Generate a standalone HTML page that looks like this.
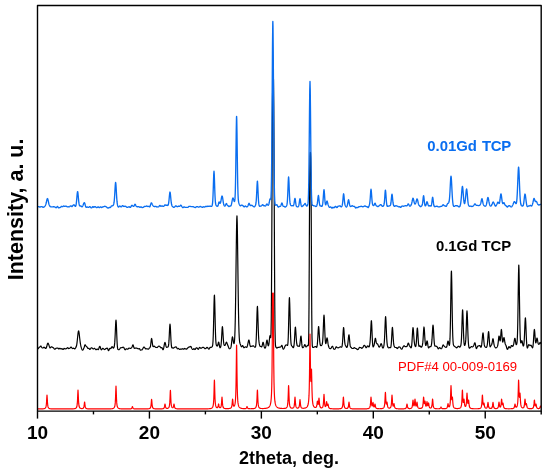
<!DOCTYPE html>
<html><head><meta charset="utf-8"><title>XRD</title>
<style>
html,body{margin:0;padding:0;background:#fff;}
body{width:550px;height:472px;overflow:hidden;}
svg{display:block;}
text{font-family:"Liberation Sans",sans-serif;}
.b{font-weight:bold;}
</style></head><body>
<svg width="550" height="472" viewBox="0 0 550 472">
<rect x="0" y="0" width="550" height="472" fill="#fff"/>
<clipPath id="c"><rect x="37.5" y="5.5" width="503.70000000000005" height="405.6"/></clipPath>
<g clip-path="url(#c)" fill="none" stroke-linejoin="round" stroke-linecap="butt">
<polyline stroke="#000" stroke-width="1.2" points="37.50,348.69 37.75,348.82 38.00,348.79 38.25,348.61 38.50,348.30 38.75,347.90 39.00,347.53 39.25,347.27 39.50,347.12 39.75,347.02 40.00,346.86 40.25,346.58 40.50,346.28 40.75,346.08 41.00,346.15 41.25,346.47 41.50,346.93 41.75,347.36 42.00,347.68 42.25,347.88 42.50,347.99 42.75,348.00 43.00,347.91 43.25,347.75 43.50,347.53 43.75,347.33 44.00,347.22 44.25,347.25 44.50,347.43 44.75,347.71 45.00,348.02 45.25,348.28 45.50,348.43 45.75,348.45 46.00,348.30 46.25,347.94 46.50,347.35 46.75,346.53 47.00,345.54 47.25,344.54 47.50,343.72 47.75,343.24 48.00,343.17 48.25,343.45 48.50,343.97 48.75,344.63 49.00,345.36 49.25,346.14 49.50,346.88 49.75,347.50 50.00,347.84 50.25,347.87 50.50,347.63 50.75,347.30 51.00,347.01 51.25,346.87 51.50,346.86 51.75,346.92 52.00,347.01 52.25,347.12 52.50,347.25 52.75,347.40 53.00,347.55 53.25,347.72 53.50,347.91 53.75,348.17 54.00,348.50 54.25,348.86 54.50,349.14 54.75,349.26 55.00,349.18 55.25,348.96 55.50,348.69 55.75,348.47 56.00,348.31 56.25,348.23 56.50,348.20 56.75,348.22 57.00,348.24 57.25,348.22 57.50,348.15 57.75,348.10 58.00,348.17 58.25,348.41 58.50,348.74 58.75,348.98 59.00,348.99 59.25,348.80 59.50,348.49 59.75,348.28 60.00,348.26 60.25,348.42 60.50,348.66 60.75,348.86 61.00,348.92 61.25,348.86 61.50,348.72 61.75,348.62 62.00,348.65 62.25,348.84 62.50,349.14 62.75,349.39 63.00,349.48 63.25,349.35 63.50,349.02 63.75,348.67 64.00,348.44 64.25,348.42 64.50,348.57 64.75,348.77 65.00,348.88 65.25,348.88 65.50,348.80 65.75,348.73 66.00,348.70 66.25,348.68 66.50,348.58 66.75,348.38 67.00,348.09 67.25,347.81 67.50,347.67 67.75,347.73 68.00,347.96 68.25,348.26 68.50,348.48 68.75,348.57 69.00,348.53 69.25,348.43 69.50,348.29 69.75,348.13 70.00,347.96 70.25,347.74 70.50,347.49 70.75,347.26 71.00,347.13 71.25,347.16 71.50,347.39 71.75,347.75 72.00,348.15 72.25,348.45 72.50,348.58 72.75,348.53 73.00,348.38 73.25,348.22 73.50,348.15 73.75,348.21 74.00,348.39 74.25,348.63 74.50,348.82 74.75,348.88 75.00,348.76 75.25,348.46 75.50,348.05 75.75,347.60 76.00,347.14 76.25,346.59 76.50,345.80 76.75,344.57 77.00,342.86 77.25,340.71 77.50,338.31 77.75,335.87 78.00,333.63 78.25,331.89 78.50,330.98 78.60,330.92 78.75,331.15 79.00,332.35 79.25,334.27 79.50,336.50 79.75,338.74 80.00,340.79 80.25,342.61 80.50,344.14 80.75,345.41 81.00,346.49 81.25,347.42 81.50,348.25 81.75,348.96 82.00,349.53 82.25,349.95 82.50,350.18 82.75,350.17 83.00,349.91 83.25,349.45 83.50,348.89 83.75,348.32 84.00,347.72 84.25,347.00 84.50,346.12 84.75,345.27 85.00,344.76 85.25,344.78 85.50,345.21 85.75,345.74 86.00,346.12 86.25,346.31 86.50,346.42 86.75,346.62 87.00,346.99 87.25,347.48 87.50,347.96 87.75,348.30 88.00,348.43 88.25,348.38 88.50,348.28 88.75,348.26 89.00,348.45 89.25,348.80 89.50,349.19 89.75,349.42 90.00,349.41 90.25,349.16 90.50,348.78 90.75,348.38 91.00,348.06 91.25,347.86 91.50,347.77 91.75,347.81 92.00,347.94 92.25,348.14 92.50,348.38 92.75,348.63 93.00,348.84 93.25,348.96 93.50,348.94 93.75,348.78 94.00,348.56 94.25,348.36 94.50,348.30 94.75,348.40 95.00,348.66 95.25,349.01 95.50,349.34 95.75,349.58 96.00,349.69 96.25,349.68 96.50,349.54 96.75,349.32 97.00,349.10 97.25,349.01 97.50,349.10 97.75,349.34 98.00,349.58 98.25,349.61 98.50,349.32 98.75,348.71 99.00,347.94 99.25,347.16 99.50,346.57 99.75,346.31 100.00,346.46 100.25,347.03 100.50,347.86 100.75,348.72 101.00,349.39 101.25,349.75 101.50,349.78 101.75,349.55 102.00,349.18 102.25,348.77 102.50,348.45 102.75,348.31 103.00,348.38 103.25,348.56 103.50,348.78 103.75,348.98 104.00,349.16 104.25,349.34 104.50,349.50 104.75,349.54 105.00,349.40 105.25,349.11 105.50,348.81 105.75,348.61 106.00,348.56 106.25,348.54 106.50,348.44 106.75,348.24 107.00,348.04 107.25,348.03 107.50,348.32 107.75,348.93 108.00,349.69 108.25,350.36 108.50,350.67 108.75,350.54 109.00,350.04 109.25,349.40 109.50,348.82 109.75,348.48 110.00,348.38 110.25,348.45 110.50,348.57 110.75,348.57 111.00,348.35 111.25,347.92 111.50,347.38 111.75,346.92 112.00,346.70 112.25,346.75 112.50,347.04 112.75,347.44 113.00,347.81 113.25,348.03 113.50,348.03 113.75,347.82 114.00,347.35 114.25,346.48 114.50,344.96 114.75,342.39 115.00,338.41 115.25,333.04 115.50,327.01 115.75,321.95 116.00,320.00 116.25,322.32 116.50,327.90 116.75,334.59 117.00,340.60 117.25,344.97 117.50,347.60 117.75,348.90 118.00,349.44 118.25,349.64 118.50,349.71 118.75,349.72 119.00,349.65 119.25,349.48 119.50,349.21 119.75,348.87 120.00,348.49 120.25,348.14 120.50,347.88 120.75,347.75 121.00,347.70 121.25,347.71 121.50,347.74 121.75,347.74 122.00,347.69 122.25,347.57 122.50,347.39 122.75,347.22 123.00,347.14 123.25,347.18 123.50,347.32 123.75,347.55 124.00,347.89 124.25,348.36 124.50,348.92 124.75,349.43 125.00,349.76 125.25,349.80 125.50,349.60 125.75,349.26 126.00,348.95 126.25,348.77 126.50,348.77 126.75,348.88 127.00,349.02 127.25,349.12 127.50,349.17 127.75,349.15 128.00,349.01 128.25,348.75 128.50,348.46 128.75,348.23 129.00,348.14 129.25,348.16 129.50,348.21 129.75,348.25 130.00,348.28 130.25,348.32 130.50,348.35 130.75,348.31 131.00,348.20 131.25,348.04 131.50,347.83 131.75,347.52 132.00,347.04 132.25,346.35 132.50,345.59 132.75,345.01 133.00,344.90 133.25,345.38 133.50,346.24 133.75,347.15 134.00,347.86 134.25,348.25 134.50,348.35 134.75,348.26 135.00,348.11 135.25,348.02 135.50,348.01 135.75,348.04 136.00,348.08 136.25,348.10 136.50,348.11 136.75,348.16 137.00,348.24 137.25,348.35 137.50,348.48 137.75,348.62 138.00,348.74 138.25,348.82 138.50,348.80 138.75,348.70 139.00,348.57 139.25,348.52 139.50,348.68 139.75,349.07 140.00,349.58 140.25,349.98 140.50,350.15 140.75,350.09 141.00,349.95 141.25,349.89 141.50,349.93 141.75,349.97 142.00,349.87 142.25,349.60 142.50,349.20 142.75,348.75 143.00,348.30 143.25,347.85 143.50,347.45 143.75,347.17 144.00,347.07 144.25,347.17 144.50,347.41 144.75,347.74 145.00,348.11 145.25,348.50 145.50,348.81 145.75,348.98 146.00,348.96 146.25,348.84 146.50,348.73 146.75,348.71 147.00,348.77 147.25,348.86 147.50,348.95 147.75,349.06 148.00,349.17 148.25,349.23 148.50,349.16 148.75,348.90 149.00,348.53 149.25,348.17 149.50,347.90 149.75,347.72 150.00,347.51 150.25,347.04 150.50,346.03 150.75,344.34 151.00,342.14 151.25,339.97 151.50,338.63 151.60,338.48 151.75,338.75 152.00,340.21 152.25,342.28 152.50,344.25 152.75,345.68 153.00,346.44 153.25,346.63 153.50,346.48 153.75,346.24 154.00,346.11 154.25,346.15 154.50,346.33 154.75,346.56 155.00,346.80 155.25,347.00 155.50,347.19 155.75,347.33 156.00,347.43 156.25,347.47 156.50,347.48 156.75,347.51 157.00,347.54 157.25,347.51 157.50,347.33 157.75,347.00 158.00,346.63 158.25,346.36 158.50,346.23 158.75,346.22 159.00,346.22 159.25,346.22 159.50,346.27 159.75,346.42 160.00,346.70 160.25,347.05 160.50,347.42 160.75,347.72 161.00,347.85 161.25,347.80 161.50,347.66 161.75,347.57 162.00,347.73 162.25,348.20 162.50,348.86 162.75,349.46 163.00,349.72 163.25,349.50 163.50,348.77 163.75,347.64 164.00,346.27 164.25,344.83 164.50,343.54 164.75,342.64 165.00,342.40 165.25,342.92 165.50,343.98 165.75,345.18 166.00,346.21 166.25,346.92 166.50,347.27 166.75,347.36 167.00,347.29 167.25,347.17 167.50,347.07 167.75,347.00 168.00,346.86 168.25,346.48 168.50,345.55 168.75,343.64 169.00,340.41 169.25,335.83 169.50,330.58 169.75,326.08 170.00,324.18 170.25,325.87 170.50,330.31 170.75,335.74 171.00,340.67 171.25,344.31 171.50,346.50 171.75,347.51 172.00,347.78 172.25,347.76 172.50,347.76 172.75,347.89 173.00,348.08 173.25,348.18 173.50,348.12 173.75,347.92 174.00,347.69 174.25,347.50 174.50,347.37 174.75,347.28 175.00,347.20 175.25,347.09 175.50,346.98 175.75,346.89 176.00,346.88 176.25,347.02 176.50,347.33 176.75,347.79 177.00,348.29 177.25,348.67 177.50,348.81 177.75,348.73 178.00,348.56 178.25,348.45 178.50,348.50 178.75,348.68 179.00,348.94 179.25,349.18 179.50,349.37 179.75,349.42 180.00,349.33 180.25,349.14 180.50,349.00 180.75,348.99 181.00,349.10 181.25,349.21 181.50,349.23 181.75,349.13 182.00,348.97 182.25,348.81 182.50,348.72 182.75,348.73 183.00,348.85 183.25,349.05 183.50,349.22 183.75,349.21 184.00,349.02 184.25,348.74 184.50,348.52 184.75,348.45 185.00,348.53 185.25,348.67 185.50,348.83 185.75,348.98 186.00,349.11 186.25,349.18 186.50,349.16 186.75,349.03 187.00,348.80 187.25,348.51 187.50,348.20 187.75,347.94 188.00,347.73 188.25,347.54 188.50,347.35 188.75,347.14 189.00,346.96 189.25,346.86 189.50,346.83 189.75,346.85 190.00,346.80 190.25,346.65 190.50,346.47 190.75,346.42 191.00,346.64 191.25,347.12 191.50,347.71 191.75,348.27 192.00,348.73 192.25,349.09 192.50,349.35 192.75,349.47 193.00,349.42 193.25,349.21 193.50,348.94 193.75,348.72 194.00,348.67 194.25,348.82 194.50,349.12 194.75,349.44 195.00,349.59 195.25,349.44 195.50,349.02 195.75,348.50 196.00,348.08 196.25,347.85 196.50,347.79 196.75,347.85 197.00,348.00 197.25,348.23 197.50,348.54 197.75,348.89 198.00,349.19 198.25,349.31 198.50,349.15 198.75,348.75 199.00,348.22 199.25,347.77 199.50,347.49 199.75,347.43 200.00,347.56 200.25,347.81 200.50,348.07 200.75,348.26 201.00,348.31 201.25,348.24 201.50,348.09 201.75,347.91 202.00,347.73 202.25,347.56 202.50,347.45 202.75,347.39 203.00,347.39 203.25,347.39 203.50,347.40 203.75,347.47 204.00,347.67 204.25,348.00 204.50,348.35 204.75,348.62 205.00,348.74 205.25,348.72 205.50,348.61 205.75,348.46 206.00,348.25 206.25,347.98 206.50,347.71 206.75,347.49 207.00,347.39 207.25,347.40 207.50,347.55 207.75,347.83 208.00,348.19 208.25,348.59 208.50,348.93 208.75,349.12 209.00,349.07 209.25,348.79 209.50,348.36 209.75,347.88 210.00,347.50 210.25,347.31 210.50,347.28 210.75,347.35 211.00,347.39 211.25,347.35 211.50,347.20 211.75,347.02 212.00,346.82 212.25,346.56 212.50,345.98 212.75,344.55 213.00,341.47 213.25,335.81 213.50,327.09 213.75,315.91 214.00,304.48 214.25,296.51 214.40,295.00 214.50,295.64 214.75,302.33 215.00,313.30 215.25,324.65 215.50,333.80 215.75,339.88 216.00,343.26 216.25,344.84 216.50,345.50 216.75,345.79 217.00,345.98 217.25,346.06 217.50,345.88 217.75,345.27 218.00,344.25 218.25,343.07 218.50,342.23 218.60,342.11 218.75,342.22 219.00,343.14 219.25,344.57 219.50,346.03 219.75,347.10 220.00,347.66 220.25,347.73 220.50,347.42 220.75,346.70 221.00,345.35 221.25,343.02 221.50,339.49 221.75,334.99 222.00,330.41 222.25,327.23 222.40,326.64 222.50,326.87 222.75,329.46 223.00,333.64 223.25,337.89 223.50,341.22 223.75,343.38 224.00,344.60 224.25,345.22 224.50,345.48 224.75,345.51 225.00,345.36 225.25,345.00 225.50,344.42 225.75,343.66 226.00,342.87 226.25,342.29 226.40,342.13 226.50,342.20 226.75,342.58 227.00,343.19 227.25,343.87 227.50,344.52 227.75,345.16 228.00,345.79 228.25,346.42 228.50,347.07 228.75,347.73 229.00,348.29 229.25,348.66 229.50,348.78 229.75,348.69 230.00,348.52 230.25,348.34 230.50,348.12 230.75,347.70 231.00,346.88 231.25,345.52 231.50,343.60 231.75,341.31 232.00,339.04 232.25,337.39 232.40,336.94 232.50,336.91 232.75,337.66 233.00,339.14 233.25,340.81 233.50,342.25 233.75,343.25 234.00,343.58 234.25,342.97 234.50,340.98 234.75,337.07 235.00,330.56 235.25,320.77 235.50,307.21 235.75,289.99 236.00,270.09 236.25,249.54 236.50,231.39 236.75,219.22 236.95,215.95 237.00,216.14 237.25,223.05 237.50,238.01 237.75,257.48 238.00,277.91 238.25,296.60 238.50,312.05 238.75,323.80 239.00,332.08 239.25,337.49 239.50,340.72 239.75,342.48 240.00,343.42 240.25,344.05 240.50,344.66 240.75,345.33 241.00,346.00 241.25,346.52 241.50,346.78 241.75,346.74 242.00,346.44 242.25,346.02 242.50,345.70 242.75,345.68 243.00,346.00 243.25,346.58 243.50,347.19 243.75,347.61 244.00,347.74 244.25,347.63 244.50,347.41 244.75,347.21 245.00,347.07 245.25,346.98 245.50,346.91 245.75,346.88 246.00,346.94 246.25,347.10 246.50,347.28 246.75,347.30 247.00,347.02 247.25,346.39 247.50,345.50 247.75,344.41 248.00,343.21 248.25,341.93 248.50,340.78 248.75,340.07 249.00,340.16 249.25,341.15 249.50,342.65 249.75,344.15 250.00,345.33 250.25,346.09 250.50,346.49 250.75,346.60 251.00,346.54 251.25,346.39 251.50,346.27 251.75,346.21 252.00,346.22 252.25,346.21 252.50,346.13 252.75,345.97 253.00,345.80 253.25,345.74 253.50,345.85 253.75,346.09 254.00,346.41 254.25,346.70 254.50,346.95 254.75,347.15 255.00,347.28 255.25,347.24 255.50,346.80 255.75,345.57 256.00,343.01 256.25,338.44 256.50,331.52 256.75,322.70 257.00,313.75 257.25,307.58 257.40,306.46 257.50,306.95 257.75,312.05 258.00,320.28 258.25,328.58 258.50,335.09 258.75,339.39 259.00,342.00 259.25,343.67 259.50,344.85 259.75,345.70 260.00,346.18 260.25,346.35 260.50,346.36 260.75,346.39 261.00,346.54 261.25,346.77 261.50,346.92 261.75,346.80 262.00,346.29 262.25,345.34 262.50,344.12 262.75,342.97 263.00,342.31 263.25,342.46 263.50,343.31 263.75,344.54 264.00,345.82 264.25,346.90 264.50,347.65 264.75,348.06 265.00,348.19 265.25,348.04 265.50,347.58 265.75,346.73 266.00,345.41 266.25,343.71 266.50,341.90 266.75,340.49 267.00,340.03 267.25,340.77 267.50,342.31 267.75,343.96 268.00,345.21 268.25,345.79 268.50,345.66 268.75,344.83 269.00,343.33 269.25,341.19 269.50,338.74 269.75,336.61 270.00,335.58 270.25,335.98 270.50,337.20 270.75,337.49 271.00,333.49 271.25,319.92 271.50,291.32 271.75,246.39 272.00,191.39 272.25,138.40 272.50,98.78 272.75,77.34 273.00,71.04 273.10,70.87 273.25,71.65 273.50,80.78 273.75,106.31 274.00,149.85 274.25,204.97 274.50,259.59 274.75,302.37 275.00,328.69 275.25,341.21 275.50,345.69 275.75,346.91 276.00,347.28 276.25,347.55 276.50,347.85 276.75,348.04 277.00,348.06 277.25,347.91 277.50,347.67 277.75,347.46 278.00,347.36 278.25,347.35 278.50,347.39 278.75,347.41 279.00,347.39 279.25,347.30 279.50,347.18 279.75,347.09 280.00,347.04 280.25,347.03 280.50,347.00 280.75,346.86 281.00,346.56 281.25,346.12 281.50,345.65 281.75,345.34 282.00,345.48 282.25,346.18 282.50,347.22 282.75,348.22 283.00,348.91 283.25,349.19 283.50,349.14 283.75,348.90 284.00,348.52 284.25,348.03 284.50,347.44 284.75,346.81 285.00,346.23 285.25,345.73 285.50,345.35 285.75,345.09 286.00,344.96 286.25,344.93 286.50,344.97 286.75,345.03 287.00,345.16 287.25,345.35 287.50,345.43 287.75,344.77 288.00,342.45 288.25,337.41 288.50,329.14 288.75,318.31 289.00,307.17 289.25,299.29 289.40,297.70 289.50,298.16 289.75,304.16 290.00,314.30 290.25,324.92 290.50,333.65 290.75,339.62 291.00,343.10 291.25,344.84 291.50,345.60 291.75,345.91 292.00,346.12 292.25,346.41 292.50,346.78 292.75,347.19 293.00,347.52 293.25,347.66 293.50,347.49 293.75,346.84 294.00,345.45 294.25,343.03 294.50,339.42 294.75,334.94 295.00,330.50 295.25,327.55 295.40,327.08 295.50,327.37 295.75,329.99 296.00,334.09 296.25,338.21 296.50,341.49 296.75,343.70 297.00,345.01 297.25,345.69 297.50,345.99 297.75,346.09 298.00,346.09 298.25,346.07 298.50,346.10 298.75,346.20 299.00,346.33 299.25,346.33 299.50,345.99 299.75,345.05 300.00,343.37 300.25,341.01 300.50,338.46 300.75,336.52 301.00,336.12 301.25,337.65 301.50,340.44 301.75,343.38 302.00,345.68 302.25,347.04 302.50,347.63 302.75,347.74 303.00,347.65 303.25,347.44 303.50,347.18 303.75,346.79 304.00,346.27 304.25,345.63 304.50,345.01 304.75,344.60 305.00,344.65 305.25,345.19 305.50,345.96 305.75,346.61 306.00,346.95 306.25,346.94 306.50,346.70 306.75,346.36 307.00,346.00 307.25,345.69 307.50,345.51 307.75,345.46 308.00,345.57 308.25,345.63 308.50,344.00 308.75,334.51 309.00,307.28 309.25,260.84 309.50,210.12 309.75,173.44 310.00,156.46 310.25,152.58 310.35,152.47 310.50,152.73 310.75,158.32 311.00,178.85 311.25,219.17 311.50,270.63 311.75,314.06 312.00,337.49 312.25,345.22 312.50,346.91 312.75,347.33 313.00,347.48 313.25,347.48 313.50,347.38 313.75,347.25 314.00,347.13 314.25,347.00 314.50,346.90 314.75,346.80 315.00,346.70 315.25,346.60 315.50,346.53 315.75,346.58 316.00,346.80 316.25,347.13 316.50,347.38 316.75,347.27 317.00,346.53 317.25,344.92 317.50,342.25 317.75,338.49 318.00,333.98 318.25,329.63 318.50,326.88 318.60,326.52 318.75,326.96 319.00,329.75 319.25,333.92 319.50,338.06 319.75,341.35 320.00,343.55 320.25,344.83 320.50,345.45 320.75,345.67 321.00,345.68 321.25,345.58 321.50,345.41 321.75,345.15 322.00,344.74 322.25,344.03 322.50,342.71 322.75,340.24 323.00,336.07 323.25,330.15 323.50,323.29 323.75,317.43 324.00,314.99 324.25,317.22 324.50,322.94 324.75,329.77 325.00,335.84 325.25,340.22 325.50,342.73 325.75,343.64 326.00,343.28 326.25,342.02 326.50,340.28 326.75,338.65 327.00,337.83 327.25,338.25 327.50,339.67 327.75,341.54 328.00,343.38 328.25,344.91 328.50,346.05 328.75,346.85 329.00,347.44 329.25,347.88 329.50,348.21 329.75,348.45 330.00,348.59 330.25,348.65 330.50,348.61 330.75,348.47 331.00,348.21 331.25,347.85 331.50,347.43 331.75,346.99 332.00,346.58 332.25,346.29 332.50,346.25 332.75,346.53 333.00,347.12 333.25,347.88 333.50,348.58 333.75,349.05 334.00,349.26 334.25,349.28 334.50,349.26 334.75,349.21 335.00,349.07 335.25,348.74 335.50,348.17 335.75,347.53 336.00,347.01 336.25,346.78 336.50,346.87 336.75,347.14 337.00,347.42 337.25,347.62 337.50,347.72 337.75,347.77 338.00,347.79 338.25,347.80 338.50,347.76 338.75,347.65 339.00,347.50 339.25,347.35 339.50,347.19 339.75,347.06 340.00,346.92 340.25,346.80 340.50,346.75 340.75,346.81 341.00,346.96 341.25,347.12 341.50,347.19 341.75,347.02 342.00,346.41 342.25,345.05 342.50,342.63 342.75,339.05 343.00,334.65 343.25,330.40 343.50,327.81 343.60,327.55 343.75,328.13 344.00,331.16 344.25,335.44 344.50,339.45 344.75,342.37 345.00,344.08 345.25,344.96 345.50,345.48 345.75,345.92 346.00,346.38 346.25,346.84 346.50,347.23 346.75,347.44 347.00,347.33 347.25,346.82 347.50,345.82 347.75,344.29 348.00,342.22 348.25,339.71 348.50,337.14 348.75,335.23 349.00,334.80 349.25,336.20 349.50,338.87 349.75,341.82 350.00,344.30 350.25,345.95 350.50,346.79 350.75,347.12 351.00,347.25 351.25,347.46 351.50,347.78 351.75,348.13 352.00,348.38 352.25,348.49 352.50,348.51 352.75,348.50 353.00,348.50 353.25,348.45 353.50,348.29 353.75,348.04 354.00,347.80 354.25,347.67 354.50,347.71 354.75,347.88 355.00,348.10 355.25,348.28 355.50,348.39 355.75,348.46 356.00,348.53 356.25,348.64 356.50,348.80 356.75,349.00 357.00,349.22 357.25,349.41 357.50,349.53 357.75,349.56 358.00,349.48 358.25,349.28 358.50,348.94 358.75,348.50 359.00,348.02 359.25,347.65 359.50,347.47 359.75,347.45 360.00,347.50 360.25,347.50 360.50,347.48 360.75,347.51 361.00,347.70 361.25,348.00 361.50,348.26 361.75,348.34 362.00,348.21 362.25,347.97 362.50,347.74 362.75,347.53 363.00,347.27 363.25,346.86 363.50,346.34 363.75,345.82 364.00,345.46 364.25,345.33 364.50,345.39 364.75,345.58 365.00,345.86 365.25,346.26 365.50,346.76 365.75,347.27 366.00,347.65 366.25,347.76 366.50,347.58 366.75,347.17 367.00,346.70 367.25,346.29 367.50,346.03 367.75,345.94 368.00,346.02 368.25,346.25 368.50,346.58 368.75,346.88 369.00,346.94 369.25,346.57 369.50,345.71 369.75,344.38 370.00,342.47 370.25,339.69 370.50,335.63 370.75,330.39 371.00,324.92 371.25,321.19 371.40,320.70 371.50,321.19 371.75,325.22 372.00,331.50 372.25,337.80 372.50,342.62 372.75,345.49 373.00,346.71 373.25,346.90 373.50,346.58 373.75,346.03 374.00,345.29 374.25,344.28 374.50,342.89 374.75,341.20 375.00,339.53 375.25,338.44 375.40,338.28 375.50,338.44 375.75,339.51 376.00,341.05 376.25,342.41 376.50,343.28 376.75,343.64 377.00,343.71 377.25,343.75 377.50,343.94 377.75,344.32 378.00,344.86 378.25,345.47 378.50,346.09 378.75,346.64 379.00,347.01 379.25,347.13 379.50,347.00 379.75,346.68 380.00,346.22 380.25,345.61 380.50,344.87 380.75,344.13 381.00,343.66 381.25,343.68 381.50,344.17 381.75,344.95 382.00,345.85 382.25,346.73 382.50,347.44 382.75,347.90 383.00,348.02 383.25,347.81 383.50,347.29 383.75,346.43 384.00,345.03 384.25,342.70 384.50,339.00 384.75,333.68 385.00,327.20 385.25,320.93 385.50,317.08 385.60,316.68 385.75,317.49 386.00,321.88 386.25,328.19 386.50,334.32 386.75,339.14 387.00,342.45 387.25,344.58 387.50,345.96 387.75,346.85 388.00,347.38 388.25,347.66 388.50,347.79 388.75,347.82 389.00,347.78 389.25,347.66 389.50,347.53 389.75,347.46 390.00,347.52 390.25,347.66 390.50,347.70 390.75,347.36 391.00,346.26 391.25,344.04 391.50,340.52 391.75,335.96 392.00,331.31 392.25,328.05 392.40,327.40 392.50,327.64 392.75,330.22 393.00,334.44 393.25,338.73 393.50,342.13 393.75,344.35 394.00,345.62 394.25,346.34 394.50,346.79 394.75,347.13 395.00,347.36 395.25,347.48 395.50,347.51 395.75,347.50 396.00,347.50 396.25,347.57 396.50,347.75 396.75,348.03 397.00,348.33 397.25,348.54 397.50,348.52 397.75,348.25 398.00,347.82 398.25,347.41 398.50,347.11 398.75,346.99 399.00,346.97 399.25,346.97 399.50,347.00 399.75,347.09 400.00,347.26 400.25,347.54 400.50,347.86 400.75,348.23 401.00,348.60 401.25,348.94 401.50,349.15 401.75,349.17 402.00,348.97 402.25,348.57 402.50,348.06 402.75,347.53 403.00,347.01 403.25,346.57 403.50,346.20 403.75,345.94 404.00,345.81 404.25,345.83 404.50,346.00 404.75,346.25 405.00,346.47 405.25,346.62 405.50,346.67 405.75,346.67 406.00,346.65 406.25,346.63 406.50,346.59 406.75,346.51 407.00,346.31 407.25,345.92 407.50,345.23 407.75,344.32 408.00,343.48 408.25,343.05 408.50,343.18 408.75,343.75 409.00,344.51 409.25,345.26 409.50,345.83 409.75,346.23 410.00,346.56 410.25,346.90 410.50,347.29 410.75,347.67 411.00,347.88 411.25,347.66 411.50,346.73 411.75,344.80 412.00,341.70 412.25,337.58 412.50,333.05 412.75,329.27 413.00,327.59 413.25,328.70 413.50,331.80 413.75,335.55 414.00,338.96 414.25,341.62 414.50,343.54 414.75,344.87 415.00,345.77 415.25,346.34 415.50,346.60 415.75,346.42 416.00,345.48 416.25,343.35 416.50,339.87 416.75,335.44 417.00,331.11 417.25,328.38 417.40,328.12 417.50,328.53 417.75,331.51 418.00,335.93 418.25,340.27 418.50,343.57 418.75,345.52 419.00,346.33 419.25,346.41 419.50,346.18 419.75,345.95 420.00,345.90 420.25,346.08 420.50,346.43 420.75,346.82 421.00,347.14 421.25,347.26 421.50,347.17 421.75,346.86 422.00,346.36 422.25,345.66 422.50,344.61 422.75,342.90 423.00,340.19 423.25,336.43 423.50,332.11 423.75,328.45 424.00,326.98 424.25,328.48 424.50,332.13 424.75,336.44 425.00,340.23 425.25,343.00 425.50,344.71 425.75,345.47 426.00,345.39 426.25,344.57 426.50,343.20 426.75,341.74 427.00,340.89 427.25,341.14 427.50,342.41 427.75,344.19 428.00,345.92 428.25,347.21 428.50,347.86 428.75,347.93 429.00,347.66 429.25,347.26 429.50,346.91 429.75,346.70 430.00,346.65 430.25,346.71 430.50,346.77 430.75,346.68 431.00,346.32 431.25,345.57 431.50,344.32 431.75,342.36 432.00,339.42 432.25,335.43 432.50,330.87 432.75,326.89 433.00,325.08 433.25,326.37 433.50,330.09 433.75,334.77 434.00,339.16 434.25,342.51 434.50,344.64 434.75,345.73 435.00,346.13 435.25,346.18 435.50,346.11 435.75,346.06 436.00,346.10 436.25,346.22 436.50,346.40 436.75,346.59 437.00,346.78 437.25,347.05 437.50,347.44 437.75,347.95 438.00,348.46 438.25,348.78 438.50,348.77 438.75,348.48 439.00,348.07 439.25,347.75 439.50,347.64 439.75,347.71 440.00,347.89 440.25,348.06 440.50,348.25 440.75,348.46 441.00,348.65 441.25,348.76 441.50,348.67 441.75,348.33 442.00,347.79 442.25,347.09 442.50,346.33 442.75,345.61 443.00,345.11 443.25,344.97 443.50,345.16 443.75,345.53 444.00,345.93 444.25,346.24 444.50,346.47 444.75,346.67 445.00,346.87 445.25,347.06 445.50,347.21 445.75,347.29 446.00,347.33 446.25,347.31 446.50,347.13 446.75,346.64 447.00,345.72 447.25,344.39 447.50,342.88 447.75,341.62 448.00,341.06 448.25,341.43 448.50,342.49 448.75,343.77 449.00,344.83 449.25,345.34 449.50,344.94 449.75,343.05 450.00,338.65 450.25,330.54 450.50,317.95 450.75,301.69 451.00,284.98 451.25,273.27 451.40,270.99 451.50,271.88 451.75,281.43 452.00,297.17 452.25,313.46 452.50,326.69 452.75,335.70 453.00,341.01 453.25,343.80 453.50,345.13 453.75,345.70 454.00,345.94 454.25,346.10 454.50,346.27 454.75,346.47 455.00,346.65 455.25,346.81 455.50,346.96 455.75,347.16 456.00,347.41 456.25,347.68 456.50,347.85 456.75,347.86 457.00,347.68 457.25,347.39 457.50,347.09 457.75,346.80 458.00,346.54 458.25,346.33 458.50,346.22 458.75,346.26 459.00,346.45 459.25,346.73 459.50,346.97 459.75,347.08 460.00,347.00 460.25,346.74 460.50,346.28 460.75,345.59 461.00,344.36 461.25,342.04 461.50,337.90 461.75,331.49 462.00,323.35 462.25,315.35 462.50,310.37 462.60,309.87 462.75,310.84 463.00,316.47 463.25,324.60 463.50,332.52 463.75,338.62 464.00,342.50 464.25,344.52 464.50,345.29 464.75,345.32 465.00,344.91 465.25,344.12 465.50,342.66 465.75,339.89 466.00,335.15 466.25,328.31 466.50,320.38 466.75,313.64 467.00,310.93 467.25,313.69 467.50,320.44 467.75,328.42 468.00,335.49 468.25,340.75 468.50,344.22 468.75,346.37 469.00,347.57 469.25,348.13 469.50,348.21 469.75,348.03 470.00,347.76 470.25,347.53 470.50,347.31 470.75,347.08 471.00,346.84 471.25,346.65 471.50,346.59 471.75,346.67 472.00,346.83 472.25,346.95 472.50,346.97 472.75,346.84 473.00,346.61 473.25,346.31 473.50,345.94 473.75,345.43 474.00,344.77 474.25,343.98 474.50,343.22 474.75,342.75 475.00,342.84 475.25,343.63 475.50,344.95 475.75,346.43 476.00,347.69 476.25,348.42 476.50,348.57 476.75,348.21 477.00,347.60 477.25,346.98 477.50,346.48 477.75,346.15 478.00,345.98 478.25,345.93 478.50,345.94 478.75,345.97 479.00,345.92 479.25,345.77 479.50,345.59 479.75,345.50 480.00,345.66 480.25,346.07 480.50,346.63 480.75,347.10 481.00,347.22 481.25,346.82 481.50,345.82 481.75,344.17 482.00,341.93 482.25,339.20 482.50,336.32 482.75,333.92 483.00,332.94 483.25,333.93 483.50,336.49 483.75,339.64 484.00,342.54 484.25,344.64 484.50,345.86 484.75,346.44 485.00,346.72 485.25,346.94 485.50,347.17 485.75,347.39 486.00,347.51 486.25,347.48 486.50,347.29 486.75,346.89 487.00,346.21 487.25,345.00 487.50,343.02 487.75,340.16 488.00,336.71 488.25,333.50 488.50,331.71 488.60,331.64 488.75,332.34 489.00,335.17 489.25,338.99 489.50,342.57 489.75,345.15 490.00,346.50 490.25,346.83 490.50,346.53 490.75,346.00 491.00,345.52 491.25,345.21 491.50,344.94 491.75,344.45 492.00,343.53 492.25,342.12 492.50,340.47 492.75,339.13 493.00,338.70 493.25,339.45 493.50,341.02 493.75,342.78 494.00,344.30 494.25,345.44 494.50,346.22 494.75,346.76 495.00,347.14 495.25,347.46 495.50,347.72 495.75,347.87 496.00,347.89 496.25,347.79 496.50,347.59 496.75,347.35 497.00,347.08 497.25,346.72 497.50,346.18 497.75,345.30 498.00,343.87 498.25,341.82 498.50,339.37 498.75,337.14 499.00,335.99 499.25,336.40 499.50,337.99 499.75,339.82 500.00,340.97 500.25,340.76 500.50,338.93 500.75,335.80 501.00,332.32 501.25,329.88 501.40,329.48 501.50,329.76 501.75,332.05 502.00,335.57 502.25,338.94 502.50,341.21 502.75,342.08 503.00,341.71 503.25,340.51 503.50,339.04 503.75,337.88 504.00,337.58 504.25,338.38 504.50,339.91 504.75,341.60 505.00,343.01 505.25,343.97 505.50,344.53 505.75,344.95 506.00,345.47 506.25,346.24 506.50,347.19 506.75,348.12 507.00,348.85 507.25,349.27 507.50,349.35 507.75,349.12 508.00,348.63 508.25,347.98 508.50,347.33 508.75,346.83 509.00,346.63 509.25,346.74 509.50,347.12 509.75,347.60 510.00,347.95 510.25,348.00 510.50,347.67 510.75,347.05 511.00,346.33 511.25,345.77 511.50,345.52 511.75,345.60 512.00,345.89 512.25,346.20 512.50,346.37 512.75,346.35 513.00,346.08 513.25,345.56 513.50,344.75 513.75,343.67 514.00,342.34 514.25,340.86 514.50,339.43 514.75,338.44 515.00,338.38 515.25,339.49 515.50,341.28 515.75,343.04 516.00,344.21 516.25,344.65 516.50,344.50 516.75,343.90 517.00,342.59 517.25,339.74 517.50,333.92 517.75,323.68 518.00,308.62 518.25,290.56 518.50,274.06 518.75,265.44 518.80,265.13 519.00,269.01 519.25,282.78 519.50,300.65 519.75,317.19 520.00,329.54 520.25,337.24 520.50,341.25 520.75,342.85 521.00,342.99 521.25,342.33 521.50,341.40 521.75,340.72 522.00,340.74 522.25,341.63 522.50,343.02 522.75,344.41 523.00,345.45 523.25,345.99 523.50,345.97 523.75,345.19 524.00,343.35 524.25,340.03 524.50,335.04 524.75,328.80 525.00,322.60 525.25,318.48 525.40,317.88 525.50,318.36 525.75,322.37 526.00,328.70 526.25,335.25 526.50,340.69 526.75,344.53 527.00,346.86 527.25,347.93 527.50,348.05 527.75,347.50 528.00,346.61 528.25,345.69 528.50,345.00 528.75,344.66 529.00,344.65 529.25,344.87 529.50,345.19 529.75,345.48 530.00,345.61 530.25,345.55 530.50,345.37 530.75,345.22 531.00,345.25 531.25,345.50 531.50,345.93 531.75,346.46 532.00,347.04 532.25,347.55 532.50,347.79 532.75,347.44 533.00,346.17 533.25,343.80 533.50,340.38 533.75,336.32 534.00,332.41 534.25,329.85 534.40,329.46 534.50,329.74 534.75,332.14 535.00,335.82 535.25,339.38 535.50,341.86 535.75,342.92 536.00,342.69 536.25,341.56 536.50,340.00 536.75,338.61 537.00,338.02 537.25,338.54 537.50,339.89 537.75,341.50 538.00,342.86 538.25,343.75 538.50,344.19 538.75,344.31 539.00,344.22 539.25,343.96 539.50,343.54 539.75,343.04 540.00,342.59 540.25,342.41 540.50,342.67 540.75,343.35 541.00,344.17"/>
<polyline stroke="#0a6ef0" stroke-width="1.35" points="37.50,206.51 37.75,206.53 38.00,206.56 38.25,206.60 38.50,206.65 38.75,206.73 39.00,206.84 39.25,206.93 39.50,206.99 39.75,207.02 40.00,207.03 40.25,207.01 40.50,206.95 40.75,206.85 41.00,206.72 41.25,206.61 41.50,206.55 41.75,206.56 42.00,206.64 42.25,206.78 42.50,206.97 42.75,207.15 43.00,207.27 43.25,207.30 43.50,207.23 43.75,207.10 44.00,206.97 44.25,206.84 44.50,206.66 44.75,206.39 45.00,206.02 45.25,205.58 45.50,205.08 45.75,204.49 46.00,203.73 46.25,202.78 46.50,201.65 46.75,200.48 47.00,199.43 47.25,198.74 47.40,198.55 47.50,198.57 47.75,198.97 48.00,199.83 48.25,200.95 48.50,202.15 48.75,203.27 49.00,204.22 49.25,204.96 49.50,205.53 49.75,205.98 50.00,206.32 50.25,206.57 50.50,206.74 50.75,206.84 51.00,206.88 51.25,206.90 51.50,206.90 51.75,206.89 52.00,206.89 52.25,206.90 52.50,206.91 52.75,206.90 53.00,206.86 53.25,206.78 53.50,206.73 53.75,206.73 54.00,206.77 54.25,206.82 54.50,206.88 54.75,206.95 55.00,207.07 55.25,207.25 55.50,207.46 55.75,207.63 56.00,207.72 56.25,207.66 56.50,207.41 56.75,207.04 57.00,206.65 57.25,206.40 57.50,206.39 57.75,206.63 58.00,207.04 58.25,207.45 58.50,207.75 58.75,207.85 59.00,207.80 59.25,207.67 59.50,207.58 59.75,207.55 60.00,207.53 60.25,207.46 60.50,207.28 60.75,207.01 61.00,206.71 61.25,206.47 61.50,206.35 61.75,206.37 62.00,206.50 62.25,206.64 62.50,206.71 62.75,206.64 63.00,206.47 63.25,206.25 63.50,206.08 63.75,206.01 64.00,206.07 64.25,206.21 64.50,206.35 64.75,206.41 65.00,206.37 65.25,206.27 65.50,206.17 65.75,206.12 66.00,206.15 66.25,206.23 66.50,206.36 66.75,206.52 67.00,206.69 67.25,206.83 67.50,206.89 67.75,206.87 68.00,206.80 68.25,206.74 68.50,206.77 68.75,206.85 69.00,206.92 69.25,206.89 69.50,206.76 69.75,206.55 70.00,206.32 70.25,206.11 70.50,205.94 70.75,205.85 71.00,205.87 71.25,206.03 71.50,206.28 71.75,206.49 72.00,206.56 72.25,206.43 72.50,206.12 72.75,205.73 73.00,205.38 73.25,205.10 73.50,204.93 73.75,204.85 74.00,204.87 74.25,205.03 74.50,205.31 74.75,205.70 75.00,206.10 75.25,206.39 75.50,206.43 75.75,206.09 76.00,205.24 76.25,203.78 76.50,201.62 76.75,198.88 77.00,195.90 77.25,193.28 77.50,191.78 77.60,191.65 77.75,191.96 78.00,193.70 78.25,196.31 78.50,199.08 78.75,201.52 79.00,203.42 79.25,204.73 79.50,205.51 79.75,205.89 80.00,206.00 80.25,205.97 80.50,205.92 80.75,205.95 81.00,206.08 81.25,206.30 81.50,206.56 81.75,206.76 82.00,206.81 82.25,206.70 82.50,206.42 82.75,205.98 83.00,205.39 83.25,204.71 83.50,204.00 83.75,203.36 84.00,202.89 84.25,202.66 84.40,202.69 84.50,202.78 84.75,203.28 85.00,204.09 85.25,205.07 85.50,206.03 85.75,206.79 86.00,207.23 86.25,207.37 86.50,207.28 86.75,207.11 87.00,206.99 87.25,206.97 87.50,207.05 87.75,207.16 88.00,207.25 88.25,207.31 88.50,207.31 88.75,207.25 89.00,207.12 89.25,206.92 89.50,206.74 89.75,206.64 90.00,206.68 90.25,206.86 90.50,207.15 90.75,207.45 91.00,207.72 91.25,207.88 91.50,207.90 91.75,207.75 92.00,207.45 92.25,207.10 92.50,206.79 92.75,206.65 93.00,206.73 93.25,206.96 93.50,207.21 93.75,207.31 94.00,207.23 94.25,207.01 94.50,206.79 94.75,206.64 95.00,206.60 95.25,206.66 95.50,206.79 95.75,206.98 96.00,207.20 96.25,207.40 96.50,207.52 96.75,207.55 97.00,207.52 97.25,207.43 97.50,207.29 97.75,207.10 98.00,206.91 98.25,206.84 98.50,206.95 98.75,207.20 99.00,207.48 99.25,207.65 99.50,207.65 99.75,207.50 100.00,207.27 100.25,207.05 100.50,206.92 100.75,206.93 101.00,207.09 101.25,207.32 101.50,207.50 101.75,207.52 102.00,207.39 102.25,207.17 102.50,206.96 102.75,206.84 103.00,206.80 103.25,206.79 103.50,206.77 103.75,206.71 104.00,206.61 104.25,206.48 104.50,206.36 104.75,206.29 105.00,206.28 105.25,206.35 105.50,206.47 105.75,206.61 106.00,206.73 106.25,206.86 106.50,207.01 106.75,207.21 107.00,207.46 107.25,207.70 107.50,207.88 107.75,207.98 108.00,208.01 108.25,207.99 108.50,207.91 108.75,207.79 109.00,207.64 109.25,207.53 109.50,207.48 109.75,207.51 110.00,207.56 110.25,207.54 110.50,207.37 110.75,207.02 111.00,206.56 111.25,206.14 111.50,205.88 111.75,205.82 112.00,205.87 112.25,205.93 112.50,205.90 112.75,205.77 113.00,205.55 113.25,205.22 113.50,204.72 113.75,203.95 114.00,202.72 114.25,200.79 114.50,197.92 114.75,194.08 115.00,189.62 115.25,185.42 115.50,182.80 115.60,182.49 115.75,182.88 116.00,185.60 116.25,189.85 116.50,194.40 116.75,198.39 117.00,201.44 117.25,203.56 117.50,204.97 117.75,205.92 118.00,206.55 118.25,206.93 118.50,207.06 118.75,206.96 119.00,206.69 119.25,206.37 119.50,206.12 119.75,206.01 120.00,206.08 120.25,206.27 120.50,206.51 120.75,206.74 121.00,206.88 121.25,206.89 121.50,206.74 121.75,206.45 122.00,206.10 122.25,205.79 122.50,205.63 122.75,205.65 123.00,205.82 123.25,206.07 123.50,206.29 123.75,206.43 124.00,206.46 124.25,206.42 124.50,206.34 124.75,206.28 125.00,206.27 125.25,206.28 125.50,206.34 125.75,206.44 126.00,206.58 126.25,206.79 126.50,207.02 126.75,207.24 127.00,207.36 127.25,207.36 127.50,207.28 127.75,207.18 128.00,207.10 128.25,207.04 128.50,206.95 128.75,206.83 129.00,206.76 129.25,206.78 129.50,206.93 129.75,207.15 130.00,207.34 130.25,207.41 130.50,207.30 130.75,207.02 131.00,206.60 131.25,206.14 131.50,205.71 131.75,205.40 132.00,205.29 132.25,205.40 132.50,205.63 132.75,205.88 133.00,206.11 133.25,206.30 133.50,206.40 133.75,206.33 134.00,206.06 134.25,205.60 134.50,205.03 134.75,204.52 135.00,204.27 135.25,204.43 135.50,204.88 135.75,205.41 136.00,205.88 136.25,206.23 136.50,206.46 136.75,206.62 137.00,206.73 137.25,206.78 137.50,206.79 137.75,206.76 138.00,206.71 138.25,206.67 138.50,206.66 138.75,206.68 139.00,206.77 139.25,206.92 139.50,207.09 139.75,207.23 140.00,207.29 140.25,207.24 140.50,207.09 140.75,206.93 141.00,206.85 141.25,206.92 141.50,207.11 141.75,207.35 142.00,207.52 142.25,207.57 142.50,207.51 142.75,207.44 143.00,207.38 143.25,207.33 143.50,207.23 143.75,207.04 144.00,206.79 144.25,206.55 144.50,206.40 144.75,206.33 145.00,206.34 145.25,206.38 145.50,206.44 145.75,206.46 146.00,206.41 146.25,206.26 146.50,206.09 146.75,206.00 147.00,206.05 147.25,206.21 147.50,206.39 147.75,206.49 148.00,206.47 148.25,206.38 148.50,206.30 148.75,206.32 149.00,206.47 149.25,206.68 149.50,206.85 149.75,206.82 150.00,206.50 150.25,205.87 150.50,205.01 150.75,204.11 151.00,203.36 151.25,202.93 151.40,202.87 151.50,202.90 151.75,203.20 152.00,203.70 152.25,204.27 152.50,204.80 152.75,205.27 153.00,205.64 153.25,205.93 153.50,206.15 153.75,206.30 154.00,206.41 154.25,206.49 154.50,206.54 154.75,206.55 155.00,206.49 155.25,206.39 155.50,206.30 155.75,206.31 156.00,206.45 156.25,206.65 156.50,206.85 156.75,206.95 157.00,206.97 157.25,206.92 157.50,206.85 157.75,206.80 158.00,206.80 158.25,206.83 158.50,206.82 158.75,206.69 159.00,206.40 159.25,206.00 159.50,205.64 159.75,205.45 160.00,205.49 160.25,205.72 160.50,206.02 160.75,206.23 161.00,206.29 161.25,206.21 161.50,206.07 161.75,205.96 162.00,205.92 162.25,205.96 162.50,206.06 162.75,206.19 163.00,206.33 163.25,206.42 163.50,206.41 163.75,206.26 164.00,206.01 164.25,205.67 164.50,205.31 164.75,205.00 165.00,204.85 165.25,204.91 165.50,205.10 165.75,205.26 166.00,205.32 166.25,205.28 166.50,205.19 166.75,205.13 167.00,205.15 167.25,205.27 167.50,205.41 167.75,205.47 168.00,205.32 168.25,204.81 168.50,203.85 168.75,202.33 169.00,200.24 169.25,197.67 169.50,194.99 169.75,192.85 170.00,192.03 170.25,192.93 170.50,195.12 170.75,197.81 171.00,200.37 171.25,202.48 171.50,204.04 171.75,205.11 172.00,205.77 172.25,206.16 172.50,206.41 172.75,206.63 173.00,206.88 173.25,207.13 173.50,207.32 173.75,207.41 174.00,207.37 174.25,207.24 174.50,207.02 174.75,206.76 175.00,206.46 175.25,206.18 175.50,205.96 175.75,205.85 176.00,205.88 176.25,206.04 176.50,206.26 176.75,206.48 177.00,206.64 177.25,206.71 177.50,206.68 177.75,206.56 178.00,206.41 178.25,206.27 178.50,206.21 178.75,206.25 179.00,206.34 179.25,206.43 179.50,206.41 179.75,206.25 180.00,205.95 180.25,205.59 180.50,205.30 180.75,205.18 181.00,205.27 181.25,205.54 181.50,205.90 181.75,206.32 182.00,206.74 182.25,207.13 182.50,207.44 182.75,207.61 183.00,207.59 183.25,207.42 183.50,207.18 183.75,207.00 184.00,206.93 184.25,206.98 184.50,207.08 184.75,207.17 185.00,207.25 185.25,207.32 185.50,207.39 185.75,207.43 186.00,207.42 186.25,207.37 186.50,207.33 186.75,207.32 187.00,207.36 187.25,207.42 187.50,207.45 187.75,207.42 188.00,207.29 188.25,207.06 188.50,206.79 188.75,206.55 189.00,206.40 189.25,206.34 189.50,206.31 189.75,206.31 190.00,206.32 190.25,206.36 190.50,206.43 190.75,206.51 191.00,206.57 191.25,206.61 191.50,206.65 191.75,206.68 192.00,206.70 192.25,206.70 192.50,206.64 192.75,206.58 193.00,206.56 193.25,206.61 193.50,206.74 193.75,206.92 194.00,207.09 194.25,207.22 194.50,207.31 194.75,207.40 195.00,207.47 195.25,207.52 195.50,207.48 195.75,207.34 196.00,207.12 196.25,206.88 196.50,206.70 196.75,206.60 197.00,206.56 197.25,206.57 197.50,206.63 197.75,206.75 198.00,206.91 198.25,207.08 198.50,207.18 198.75,207.20 199.00,207.14 199.25,207.01 199.50,206.82 199.75,206.62 200.00,206.45 200.25,206.40 200.50,206.47 200.75,206.63 201.00,206.81 201.25,206.94 201.50,207.02 201.75,207.07 202.00,207.14 202.25,207.22 202.50,207.27 202.75,207.22 203.00,207.08 203.25,206.90 203.50,206.78 203.75,206.77 204.00,206.85 204.25,206.97 204.50,207.04 204.75,207.02 205.00,206.87 205.25,206.66 205.50,206.45 205.75,206.32 206.00,206.30 206.25,206.38 206.50,206.51 206.75,206.60 207.00,206.60 207.25,206.49 207.50,206.32 207.75,206.19 208.00,206.16 208.25,206.22 208.50,206.31 208.75,206.37 209.00,206.36 209.25,206.31 209.50,206.24 209.75,206.20 210.00,206.18 210.25,206.20 210.50,206.22 210.75,206.26 211.00,206.29 211.25,206.32 211.50,206.31 211.75,206.20 212.00,205.90 212.25,205.19 212.50,203.70 212.75,200.85 213.00,196.05 213.25,189.18 213.50,181.11 213.75,174.07 214.00,171.19 214.25,174.24 214.50,181.32 214.75,189.23 215.00,195.82 215.25,200.32 215.50,202.97 215.75,204.38 216.00,205.15 216.25,205.61 216.50,205.92 216.75,206.10 217.00,206.20 217.25,206.25 217.50,206.24 217.75,206.11 218.00,205.69 218.25,204.89 218.50,203.76 218.75,202.64 219.00,201.97 219.25,202.02 219.50,202.55 219.75,203.11 220.00,203.39 220.25,203.26 220.50,202.71 220.75,201.78 221.00,200.54 221.25,199.13 221.50,197.73 221.75,196.60 222.00,196.05 222.25,196.27 222.50,197.21 222.75,198.68 223.00,200.37 223.25,202.05 223.50,203.48 223.75,204.54 224.00,205.25 224.25,205.68 224.50,205.93 224.75,206.06 225.00,206.04 225.25,205.82 225.50,205.36 225.75,204.71 226.00,204.04 226.25,203.59 226.40,203.51 226.50,203.57 226.75,203.96 227.00,204.47 227.25,204.90 227.50,205.21 227.75,205.45 228.00,205.70 228.25,206.00 228.50,206.29 228.75,206.48 229.00,206.52 229.25,206.41 229.50,206.24 229.75,206.08 230.00,206.01 230.25,206.03 230.50,206.06 230.75,205.98 231.00,205.66 231.25,205.03 231.50,204.08 231.75,202.90 232.00,201.58 232.25,200.24 232.50,199.03 232.75,198.17 233.00,197.90 233.25,198.28 233.50,199.10 233.75,200.05 234.00,200.89 234.25,201.45 234.50,201.54 234.75,200.77 235.00,198.40 235.25,193.18 235.50,183.59 235.75,168.70 236.00,149.48 236.25,130.01 236.50,117.57 236.60,116.32 236.75,119.06 237.00,133.49 237.25,153.29 237.50,171.71 237.75,185.45 238.00,194.08 238.25,198.84 238.50,201.32 238.75,202.67 239.00,203.55 239.25,204.22 239.50,204.76 239.75,205.22 240.00,205.58 240.25,205.82 240.50,205.86 240.75,205.72 241.00,205.47 241.25,205.24 241.50,205.11 241.75,205.12 242.00,205.20 242.25,205.32 242.50,205.43 242.75,205.57 243.00,205.75 243.25,206.01 243.50,206.32 243.75,206.62 244.00,206.83 244.25,206.86 244.50,206.68 244.75,206.39 245.00,206.12 245.25,206.01 245.50,206.08 245.75,206.27 246.00,206.49 246.25,206.67 246.50,206.79 246.75,206.84 247.00,206.80 247.25,206.68 247.50,206.46 247.75,206.16 248.00,205.72 248.25,205.11 248.50,204.35 248.75,203.65 249.00,203.31 249.25,203.50 249.50,204.05 249.75,204.67 250.00,205.18 250.25,205.51 250.50,205.67 250.75,205.68 251.00,205.59 251.25,205.44 251.50,205.31 251.75,205.26 252.00,205.31 252.25,205.46 252.50,205.67 252.75,205.90 253.00,206.11 253.25,206.30 253.50,206.48 253.75,206.66 254.00,206.80 254.25,206.85 254.50,206.75 254.75,206.49 255.00,206.14 255.25,205.71 255.50,205.18 255.75,204.37 256.00,202.96 256.25,200.50 256.50,196.64 256.75,191.47 257.00,185.93 257.25,181.94 257.40,181.23 257.50,181.63 257.75,185.26 258.00,190.87 258.25,196.36 258.50,200.62 258.75,203.40 259.00,204.98 259.25,205.79 259.50,206.15 259.75,206.26 260.00,206.26 260.25,206.21 260.50,206.16 260.75,206.12 261.00,206.05 261.25,205.95 261.50,205.78 261.75,205.57 262.00,205.32 262.25,205.06 262.50,204.84 262.75,204.73 263.00,204.85 263.25,205.17 263.50,205.53 263.75,205.74 264.00,205.76 264.25,205.71 264.50,205.70 264.75,205.79 265.00,205.91 265.25,205.99 265.50,205.93 265.75,205.71 266.00,205.33 266.25,204.85 266.50,204.37 266.75,204.02 267.00,203.94 267.25,204.18 267.50,204.59 267.75,204.98 268.00,205.20 268.25,205.21 268.50,204.97 268.75,204.47 269.00,203.65 269.25,202.50 269.50,201.13 269.75,199.82 270.00,199.02 270.25,198.98 270.50,199.29 270.75,199.04 271.00,196.82 271.25,190.50 271.50,177.20 271.75,154.24 272.00,121.07 272.25,81.58 272.50,45.00 272.75,23.50 272.85,21.43 273.00,26.10 273.25,51.72 273.50,90.12 273.75,129.31 274.00,161.02 274.25,182.38 274.50,194.66 274.75,200.81 275.00,203.56 275.25,204.71 275.50,205.14 275.75,205.26 276.00,205.20 276.25,205.04 276.50,204.84 276.75,204.72 277.00,204.82 277.25,205.20 277.50,205.79 277.75,206.40 278.00,206.86 278.25,207.08 278.50,207.07 278.75,206.92 279.00,206.72 279.25,206.55 279.50,206.42 279.75,206.37 280.00,206.36 280.25,206.35 280.50,206.21 280.75,205.86 281.00,205.25 281.25,204.46 281.50,203.65 281.75,203.06 282.00,202.95 282.25,203.45 282.50,204.33 282.75,205.23 283.00,205.89 283.25,206.23 283.50,206.32 283.75,206.31 284.00,206.34 284.25,206.46 284.50,206.66 284.75,206.88 285.00,207.02 285.25,207.03 285.50,206.91 285.75,206.70 286.00,206.47 286.25,206.25 286.50,205.96 286.75,205.44 287.00,204.42 287.25,202.48 287.50,199.14 287.75,194.11 288.00,187.73 288.25,181.35 288.50,177.34 288.60,176.98 288.75,177.96 289.00,182.85 289.25,189.46 289.50,195.54 289.75,199.98 290.00,202.67 290.25,204.07 290.50,204.78 290.75,205.19 291.00,205.49 291.25,205.69 291.50,205.75 291.75,205.70 292.00,205.60 292.25,205.57 292.50,205.62 292.75,205.74 293.00,205.82 293.25,205.76 293.50,205.44 293.75,204.76 294.00,203.63 294.25,202.08 294.50,200.32 294.75,198.83 295.00,198.33 295.25,199.20 295.50,201.02 295.75,203.02 296.00,204.67 296.25,205.77 296.50,206.37 296.75,206.63 297.00,206.73 297.25,206.79 297.50,206.83 297.75,206.85 298.00,206.81 298.25,206.66 298.50,206.32 298.75,205.66 299.00,204.53 299.25,202.92 299.50,201.04 299.75,199.41 300.00,198.75 300.25,199.45 300.50,201.10 300.75,202.97 301.00,204.58 301.25,205.70 301.50,206.31 301.75,206.53 302.00,206.53 302.25,206.42 302.50,206.28 302.75,206.09 303.00,205.81 303.25,205.48 303.50,205.19 303.75,204.96 304.00,204.77 304.25,204.50 304.50,204.08 304.75,203.61 305.00,203.34 305.25,203.49 305.50,203.95 305.75,204.55 306.00,205.13 306.25,205.62 306.50,205.95 306.75,206.09 307.00,206.03 307.25,205.80 307.50,205.41 307.75,204.75 308.00,203.38 308.25,200.32 308.50,193.96 308.75,182.21 309.00,163.55 309.25,138.62 309.50,111.58 309.75,89.87 310.00,81.53 310.25,90.26 310.50,112.26 310.75,139.48 311.00,164.49 311.25,183.17 311.50,194.87 311.75,201.10 312.00,203.92 312.25,204.97 312.50,205.27 312.75,205.33 313.00,205.39 313.25,205.52 313.50,205.69 313.75,205.83 314.00,205.90 314.25,205.90 314.50,205.87 314.75,205.89 315.00,206.00 315.25,206.16 315.50,206.35 315.75,206.47 316.00,206.49 316.25,206.39 316.50,206.16 316.75,205.77 317.00,205.09 317.25,203.94 317.50,202.19 317.75,199.90 318.00,197.49 318.25,195.76 318.40,195.46 318.50,195.63 318.75,197.22 319.00,199.68 319.25,202.11 319.50,203.98 319.75,205.14 320.00,205.71 320.25,205.91 320.50,205.96 320.75,205.98 321.00,206.06 321.25,206.20 321.50,206.35 321.75,206.43 322.00,206.30 322.25,205.84 322.50,204.91 322.75,203.38 323.00,201.05 323.25,197.90 323.50,194.24 323.75,191.01 324.00,189.66 324.25,191.05 324.50,194.41 324.75,198.27 325.00,201.51 325.25,203.66 325.50,204.68 325.75,204.82 326.00,204.33 326.25,203.43 326.50,202.34 326.75,201.38 327.00,200.99 327.25,201.37 327.50,202.29 327.75,203.35 328.00,204.29 328.25,205.07 328.50,205.73 328.75,206.33 329.00,206.82 329.25,207.15 329.50,207.28 329.75,207.23 330.00,207.11 330.25,207.00 330.50,206.96 330.75,207.02 331.00,207.18 331.25,207.44 331.50,207.75 331.75,208.01 332.00,208.12 332.25,208.01 332.50,207.74 332.75,207.45 333.00,207.30 333.25,207.36 333.50,207.56 333.75,207.75 334.00,207.78 334.25,207.63 334.50,207.34 334.75,206.99 335.00,206.70 335.25,206.51 335.50,206.44 335.75,206.50 336.00,206.69 336.25,206.97 336.50,207.28 336.75,207.51 337.00,207.55 337.25,207.36 337.50,207.01 337.75,206.61 338.00,206.30 338.25,206.13 338.50,206.10 338.75,206.11 339.00,206.11 339.25,206.06 339.50,205.96 339.75,205.86 340.00,205.85 340.25,205.97 340.50,206.22 340.75,206.52 341.00,206.76 341.25,206.84 341.50,206.75 341.75,206.49 342.00,206.02 342.25,205.17 342.50,203.75 342.75,201.58 343.00,198.78 343.25,195.91 343.50,194.03 343.60,193.81 343.75,194.15 344.00,196.16 344.25,198.96 344.50,201.56 344.75,203.51 345.00,204.75 345.25,205.50 345.50,206.02 345.75,206.44 346.00,206.79 346.25,207.00 346.50,207.02 346.75,206.80 347.00,206.34 347.25,205.61 347.50,204.57 347.75,203.25 348.00,201.78 348.25,200.47 348.50,199.78 348.60,199.79 348.75,200.09 349.00,201.29 349.25,202.82 349.50,204.21 349.75,205.24 350.00,205.88 350.25,206.24 350.50,206.41 350.75,206.47 351.00,206.43 351.25,206.31 351.50,206.11 351.75,205.89 352.00,205.73 352.25,205.69 352.50,205.78 352.75,205.97 353.00,206.19 353.25,206.37 353.50,206.45 353.75,206.44 354.00,206.37 354.25,206.34 354.50,206.43 354.75,206.69 355.00,207.07 355.25,207.49 355.50,207.82 355.75,207.97 356.00,207.92 356.25,207.74 356.50,207.54 356.75,207.42 357.00,207.41 357.25,207.48 357.50,207.55 357.75,207.55 358.00,207.43 358.25,207.22 358.50,206.97 358.75,206.76 359.00,206.63 359.25,206.62 359.50,206.67 359.75,206.71 360.00,206.69 360.25,206.60 360.50,206.48 360.75,206.37 361.00,206.31 361.25,206.29 361.50,206.33 361.75,206.41 362.00,206.52 362.25,206.63 362.50,206.72 362.75,206.76 363.00,206.74 363.25,206.68 363.50,206.59 363.75,206.47 364.00,206.33 364.25,206.18 364.50,206.05 364.75,205.97 365.00,205.96 365.25,206.03 365.50,206.17 365.75,206.34 366.00,206.51 366.25,206.64 366.50,206.70 366.75,206.71 367.00,206.72 367.25,206.82 367.50,207.03 367.75,207.32 368.00,207.53 368.25,207.51 368.50,207.20 368.75,206.65 369.00,205.97 369.25,205.25 369.50,204.38 369.75,203.08 370.00,200.99 370.25,197.93 370.50,194.22 370.75,190.84 371.00,189.27 371.25,190.42 371.50,193.50 371.75,197.12 372.00,200.29 372.25,202.60 372.50,204.07 372.75,204.90 373.00,205.32 373.25,205.50 373.50,205.54 373.75,205.45 374.00,205.18 374.25,204.68 374.50,204.01 374.75,203.38 375.00,203.11 375.25,203.40 375.50,204.07 375.75,204.81 376.00,205.38 376.25,205.73 376.50,205.90 376.75,206.00 377.00,206.13 377.25,206.31 377.50,206.51 377.75,206.64 378.00,206.63 378.25,206.49 378.50,206.28 378.75,206.07 379.00,205.88 379.25,205.70 379.50,205.49 379.75,205.24 380.00,205.00 380.25,204.80 380.50,204.68 380.75,204.66 381.00,204.75 381.25,204.95 381.50,205.25 381.75,205.61 382.00,205.98 382.25,206.27 382.50,206.42 382.75,206.42 383.00,206.29 383.25,206.08 383.50,205.79 383.75,205.38 384.00,204.63 384.25,203.21 384.50,200.82 384.75,197.44 385.00,193.66 385.25,190.75 385.40,190.09 385.50,190.22 385.75,192.33 386.00,195.85 386.25,199.48 386.50,202.46 386.75,204.53 387.00,205.76 387.25,206.32 387.50,206.43 387.75,206.32 388.00,206.16 388.25,206.07 388.50,206.05 388.75,206.06 389.00,206.03 389.25,205.95 389.50,205.84 389.75,205.75 390.00,205.63 390.25,205.41 390.50,204.95 390.75,204.02 391.00,202.45 391.25,200.18 391.50,197.48 391.75,195.09 392.00,194.09 392.25,195.10 392.50,197.49 392.75,200.19 393.00,202.47 393.25,204.09 393.50,205.11 393.75,205.71 394.00,206.07 394.25,206.29 394.50,206.38 394.75,206.35 395.00,206.22 395.25,206.04 395.50,205.87 395.75,205.76 396.00,205.71 396.25,205.74 396.50,205.86 396.75,206.00 397.00,206.11 397.25,206.17 397.50,206.21 397.75,206.29 398.00,206.44 398.25,206.62 398.50,206.77 398.75,206.82 399.00,206.79 399.25,206.72 399.50,206.70 399.75,206.78 400.00,206.96 400.25,207.19 400.50,207.35 400.75,207.35 401.00,207.17 401.25,206.86 401.50,206.54 401.75,206.27 402.00,206.10 402.25,206.03 402.50,206.04 402.75,206.11 403.00,206.19 403.25,206.25 403.50,206.24 403.75,206.18 404.00,206.10 404.25,206.02 404.50,205.96 404.75,205.91 405.00,205.84 405.25,205.77 405.50,205.71 405.75,205.68 406.00,205.69 406.25,205.75 406.50,205.81 406.75,205.82 407.00,205.72 407.25,205.45 407.50,205.02 407.75,204.52 408.00,204.10 408.25,203.92 408.50,204.05 408.75,204.44 409.00,204.98 409.25,205.52 409.50,205.94 409.75,206.15 410.00,206.18 410.25,206.07 410.50,205.86 410.75,205.58 411.00,205.18 411.25,204.65 411.50,203.96 411.75,203.07 412.00,201.98 412.25,200.76 412.50,199.56 412.75,198.62 413.00,198.22 413.25,198.50 413.50,199.33 413.75,200.44 414.00,201.59 414.25,202.60 414.50,203.38 414.75,203.88 415.00,204.08 415.25,203.97 415.50,203.61 415.75,203.01 416.00,202.21 416.25,201.25 416.50,200.25 416.75,199.39 417.00,198.93 417.25,199.04 417.50,199.69 417.75,200.74 418.00,201.97 418.25,203.16 418.50,204.14 418.75,204.82 419.00,205.25 419.25,205.52 419.50,205.78 419.75,206.05 420.00,206.34 420.25,206.58 420.50,206.70 420.75,206.67 421.00,206.48 421.25,206.23 421.50,205.97 421.75,205.74 422.00,205.43 422.25,204.82 422.50,203.67 422.75,201.84 423.00,199.50 423.25,197.18 423.50,195.79 423.60,195.72 423.75,196.14 424.00,198.05 424.25,200.58 424.50,202.87 424.75,204.50 425.00,205.46 425.25,205.86 425.50,205.87 425.75,205.57 426.00,204.96 426.25,204.08 426.50,203.04 426.75,202.13 427.00,201.71 427.25,201.98 427.50,202.74 427.75,203.63 428.00,204.46 428.25,205.15 428.50,205.65 428.75,205.93 429.00,205.99 429.25,205.90 429.50,205.75 429.75,205.65 430.00,205.66 430.25,205.76 430.50,205.93 430.75,206.07 431.00,206.07 431.25,205.77 431.50,204.97 431.75,203.51 432.00,201.43 432.25,199.14 432.50,197.52 432.60,197.28 432.75,197.43 433.00,198.88 433.25,201.06 433.50,203.19 433.75,204.81 434.00,205.83 434.25,206.39 434.50,206.65 434.75,206.73 435.00,206.70 435.25,206.61 435.50,206.50 435.75,206.41 436.00,206.35 436.25,206.30 436.50,206.26 436.75,206.25 437.00,206.26 437.25,206.32 437.50,206.42 437.75,206.56 438.00,206.69 438.25,206.81 438.50,206.89 438.75,206.93 439.00,206.94 439.25,206.91 439.50,206.85 439.75,206.76 440.00,206.66 440.25,206.57 440.50,206.50 440.75,206.44 441.00,206.41 441.25,206.38 441.50,206.32 441.75,206.22 442.00,206.03 442.25,205.76 442.50,205.42 442.75,205.08 443.00,204.84 443.25,204.78 443.50,204.91 443.75,205.16 444.00,205.43 444.25,205.65 444.50,205.78 444.75,205.83 445.00,205.88 445.25,205.97 445.50,206.12 445.75,206.29 446.00,206.38 446.25,206.29 446.50,205.98 446.75,205.46 447.00,204.82 447.25,204.21 447.50,203.75 447.75,203.48 448.00,203.32 448.25,203.17 448.50,202.93 448.75,202.53 449.00,201.83 449.25,200.58 449.50,198.49 449.75,195.37 450.00,191.21 450.25,186.32 450.50,181.43 450.75,177.63 451.00,176.09 451.25,177.38 451.50,180.99 451.75,185.82 452.00,190.87 452.25,195.45 452.50,199.22 452.75,202.04 453.00,204.01 453.25,205.26 453.50,205.97 453.75,206.32 454.00,206.44 454.25,206.44 454.50,206.37 454.75,206.23 455.00,206.01 455.25,205.78 455.50,205.61 455.75,205.56 456.00,205.62 456.25,205.72 456.50,205.79 456.75,205.79 457.00,205.76 457.25,205.75 457.50,205.80 457.75,205.94 458.00,206.16 458.25,206.40 458.50,206.63 458.75,206.79 459.00,206.89 459.25,206.91 459.50,206.82 459.75,206.57 460.00,206.10 460.25,205.36 460.50,204.31 460.75,202.86 461.00,200.89 461.25,198.33 461.50,195.24 461.75,191.90 462.00,188.85 462.25,186.82 462.40,186.37 462.50,186.46 462.75,187.89 463.00,190.58 463.25,193.85 463.50,197.11 463.75,199.91 464.00,202.00 464.25,203.24 464.50,203.64 464.75,203.26 465.00,202.18 465.25,200.47 465.50,198.21 465.75,195.55 466.00,192.80 466.25,190.43 466.50,189.10 466.60,188.99 466.75,189.31 467.00,191.06 467.25,193.81 467.50,196.92 467.75,199.85 468.00,202.23 468.25,203.94 468.50,205.00 468.75,205.60 469.00,205.92 469.25,206.13 469.50,206.25 469.75,206.29 470.00,206.24 470.25,206.14 470.50,206.06 470.75,206.06 471.00,206.16 471.25,206.30 471.50,206.43 471.75,206.49 472.00,206.48 472.25,206.42 472.50,206.33 472.75,206.25 473.00,206.14 473.25,205.99 473.50,205.76 473.75,205.43 474.00,205.03 474.25,204.60 474.50,204.21 474.75,203.96 475.00,203.91 475.25,204.09 475.50,204.39 475.75,204.71 476.00,204.99 476.25,205.19 476.50,205.31 476.75,205.38 477.00,205.41 477.25,205.40 477.50,205.40 477.75,205.43 478.00,205.49 478.25,205.55 478.50,205.59 478.75,205.59 479.00,205.55 479.25,205.47 479.50,205.35 479.75,205.17 480.00,204.92 480.25,204.57 480.50,204.04 480.75,203.28 481.00,202.23 481.25,201.00 481.50,199.78 481.75,198.92 482.00,198.74 482.25,199.35 482.50,200.53 482.75,201.91 483.00,203.17 483.25,204.13 483.50,204.79 483.75,205.21 484.00,205.49 484.25,205.71 484.50,205.92 484.75,206.09 485.00,206.20 485.25,206.22 485.50,206.13 485.75,205.92 486.00,205.56 486.25,204.98 486.50,204.15 486.75,203.02 487.00,201.64 487.25,200.13 487.50,198.72 487.75,197.71 488.00,197.41 488.25,197.96 488.50,199.13 488.75,200.57 489.00,201.98 489.25,203.20 489.50,204.19 489.75,204.96 490.00,205.52 490.25,205.89 490.50,206.07 490.75,206.10 491.00,205.98 491.25,205.74 491.50,205.39 491.75,204.94 492.00,204.41 492.25,203.80 492.50,203.13 492.75,202.52 493.00,202.11 493.25,202.02 493.50,202.26 493.75,202.71 494.00,203.26 494.25,203.83 494.50,204.42 494.75,205.01 495.00,205.57 495.25,206.00 495.50,206.19 495.75,206.10 496.00,205.78 496.25,205.36 496.50,204.92 496.75,204.45 497.00,203.94 497.25,203.36 497.50,202.77 497.75,202.30 498.00,202.10 498.25,202.23 498.50,202.62 498.75,203.10 499.00,203.45 499.25,203.44 499.50,202.89 499.75,201.71 500.00,199.97 500.25,197.90 500.50,195.86 500.75,194.34 501.00,193.87 501.25,194.64 501.50,196.34 501.75,198.41 502.00,200.35 502.25,201.91 502.50,202.99 502.75,203.57 503.00,203.68 503.25,203.42 503.50,203.01 503.75,202.70 504.00,202.72 504.25,203.13 504.50,203.77 504.75,204.42 505.00,204.92 505.25,205.23 505.50,205.42 505.75,205.58 506.00,205.74 506.25,205.96 506.50,206.24 506.75,206.54 507.00,206.83 507.25,207.00 507.50,206.99 507.75,206.78 508.00,206.45 508.25,206.13 508.50,205.91 508.75,205.78 509.00,205.73 509.25,205.71 509.50,205.73 509.75,205.82 510.00,205.99 510.25,206.22 510.50,206.47 510.75,206.70 511.00,206.87 511.25,206.94 511.50,206.88 511.75,206.68 512.00,206.37 512.25,205.97 512.50,205.51 512.75,205.00 513.00,204.44 513.25,203.82 513.50,203.17 513.75,202.54 514.00,202.01 514.25,201.67 514.50,201.59 514.75,201.78 515.00,202.15 515.25,202.59 515.50,203.03 515.75,203.40 516.00,203.61 516.25,203.46 516.50,202.69 516.75,200.98 517.00,198.07 517.25,193.84 517.50,188.40 517.75,182.13 518.00,175.74 518.25,170.34 518.50,167.34 518.60,167.08 518.75,167.83 519.00,171.66 519.25,177.61 519.50,184.23 519.75,190.45 520.00,195.61 520.25,199.46 520.50,202.09 520.75,203.77 521.00,204.79 521.25,205.38 521.50,205.69 521.75,205.84 522.00,205.92 522.25,205.97 522.50,206.01 522.75,205.99 523.00,205.81 523.25,205.32 523.50,204.37 523.75,202.87 524.00,200.88 524.25,198.60 524.50,196.40 524.75,194.73 525.00,194.05 525.25,194.53 525.50,195.98 525.75,197.97 526.00,200.11 526.25,202.11 526.50,203.81 526.75,205.12 527.00,206.01 527.25,206.52 527.50,206.69 527.75,206.60 528.00,206.38 528.25,206.13 528.50,205.98 528.75,205.93 529.00,205.95 529.25,205.96 529.50,205.87 529.75,205.69 530.00,205.49 530.25,205.37 530.50,205.41 530.75,205.58 531.00,205.82 531.25,205.99 531.50,206.02 531.75,205.85 532.00,205.47 532.25,204.90 532.50,204.17 532.75,203.28 533.00,202.22 533.25,201.02 533.50,199.82 533.75,198.87 534.00,198.45 534.25,198.64 534.50,199.29 534.75,200.10 535.00,200.85 535.25,201.39 535.50,201.64 535.75,201.62 536.00,201.46 536.25,201.36 536.50,201.50 536.75,201.94 537.00,202.59 537.25,203.26 537.50,203.83 537.75,204.26 538.00,204.56 538.25,204.76 538.50,204.91 538.75,204.98 539.00,204.98 539.25,204.91 539.50,204.80 539.75,204.67 540.00,204.58 540.25,204.51 540.50,204.48 540.75,204.51 541.00,204.66"/>
<polyline stroke="#ff0000" stroke-width="1.2" points="37.50,408.96 37.75,408.96 38.00,408.96 38.25,408.96 38.50,408.95 38.75,408.95 39.00,408.95 39.25,408.95 39.50,408.94 39.75,408.94 40.00,408.94 40.25,408.93 40.50,408.93 40.75,408.92 41.00,408.91 41.25,408.91 41.50,408.90 41.75,408.89 42.00,408.88 42.25,408.87 42.50,408.85 42.75,408.84 43.00,408.82 43.25,408.79 43.50,408.76 43.75,408.73 44.00,408.68 44.25,408.63 44.50,408.55 44.75,408.45 45.00,408.32 45.25,408.12 45.50,407.84 45.75,407.39 46.00,406.64 46.25,405.29 46.50,402.73 46.75,398.30 47.00,395.00 47.25,398.30 47.50,402.73 47.75,405.29 48.00,406.63 48.25,407.39 48.50,407.84 48.75,408.12 49.00,408.32 49.25,408.45 49.50,408.55 49.75,408.62 50.00,408.68 50.25,408.73 50.50,408.76 50.75,408.79 51.00,408.81 51.25,408.83 51.50,408.85 51.75,408.86 52.00,408.88 52.25,408.89 52.50,408.90 52.75,408.90 53.00,408.91 53.25,408.92 53.50,408.92 53.75,408.93 54.00,408.93 54.25,408.93 54.50,408.94 54.75,408.94 55.00,408.94 55.25,408.94 55.50,408.95 55.75,408.95 56.00,408.95 56.25,408.95 56.50,408.95 56.75,408.96 57.00,408.96 57.25,408.96 57.50,408.96 57.75,408.96 58.00,408.96 58.25,408.96 58.50,408.96 58.75,408.96 59.00,408.96 59.25,408.96 59.50,408.96 59.75,408.96 60.00,408.96 60.25,408.96 60.50,408.96 60.75,408.96 61.00,408.96 61.25,408.96 61.50,408.96 61.75,408.96 62.00,408.96 62.25,408.96 62.50,408.96 62.75,408.96 63.00,408.96 63.25,408.96 63.50,408.96 63.75,408.96 64.00,408.96 64.25,408.96 64.50,408.96 64.75,408.96 65.00,408.96 65.25,408.96 65.50,408.96 65.75,408.96 66.00,408.96 66.25,408.95 66.50,408.95 66.75,408.95 67.00,408.95 67.25,408.95 67.50,408.95 67.75,408.95 68.00,408.94 68.25,408.94 68.50,408.94 68.75,408.94 69.00,408.94 69.25,408.93 69.50,408.93 69.75,408.93 70.00,408.92 70.25,408.92 70.50,408.91 70.75,408.91 71.00,408.90 71.25,408.90 71.50,408.89 71.75,408.88 72.00,408.87 72.25,408.86 72.50,408.85 72.75,408.84 73.00,408.83 73.25,408.81 73.50,408.79 73.75,408.77 74.00,408.74 74.25,408.71 74.50,408.67 74.75,408.62 75.00,408.56 75.25,408.48 75.50,408.38 75.75,408.24 76.00,408.06 76.25,407.79 76.50,407.40 76.75,406.79 77.00,405.77 77.25,403.95 77.50,400.48 77.75,394.47 78.00,390.00 78.25,394.47 78.50,400.47 78.75,403.93 79.00,405.75 79.25,406.77 79.50,407.37 79.75,407.75 80.00,408.01 80.25,408.19 80.50,408.31 80.75,408.40 81.00,408.47 81.25,408.51 81.50,408.54 81.75,408.55 82.00,408.55 82.25,408.53 82.50,408.50 82.75,408.43 83.00,408.33 83.25,408.16 83.50,407.87 83.75,407.36 84.00,406.40 84.25,404.59 84.50,402.32 84.60,402.00 84.75,402.69 85.00,405.06 85.25,406.68 85.50,407.54 85.75,408.01 86.00,408.28 86.25,408.45 86.50,408.57 86.75,408.65 87.00,408.71 87.25,408.75 87.50,408.78 87.75,408.81 88.00,408.83 88.25,408.85 88.50,408.86 88.75,408.87 89.00,408.88 89.25,408.89 89.50,408.90 89.75,408.91 90.00,408.91 90.25,408.92 90.50,408.92 90.75,408.93 91.00,408.93 91.25,408.93 91.50,408.94 91.75,408.94 92.00,408.94 92.25,408.94 92.50,408.94 92.75,408.95 93.00,408.95 93.25,408.95 93.50,408.95 93.75,408.95 94.00,408.95 94.25,408.95 94.50,408.95 94.75,408.96 95.00,408.96 95.25,408.96 95.50,408.96 95.75,408.96 96.00,408.96 96.25,408.96 96.50,408.96 96.75,408.96 97.00,408.96 97.25,408.96 97.50,408.96 97.75,408.96 98.00,408.96 98.25,408.96 98.50,408.96 98.75,408.96 99.00,408.96 99.25,408.96 99.50,408.96 99.75,408.96 100.00,408.96 100.25,408.96 100.50,408.96 100.75,408.96 101.00,408.96 101.25,408.96 101.50,408.96 101.75,408.96 102.00,408.96 102.25,408.96 102.50,408.96 102.75,408.96 103.00,408.95 103.25,408.95 103.50,408.95 103.75,408.95 104.00,408.95 104.25,408.95 104.50,408.95 104.75,408.95 105.00,408.94 105.25,408.94 105.50,408.94 105.75,408.94 106.00,408.94 106.25,408.94 106.50,408.93 106.75,408.93 107.00,408.93 107.25,408.92 107.50,408.92 107.75,408.92 108.00,408.91 108.25,408.91 108.50,408.90 108.75,408.90 109.00,408.89 109.25,408.88 109.50,408.88 109.75,408.87 110.00,408.86 110.25,408.85 110.50,408.83 110.75,408.82 111.00,408.80 111.25,408.78 111.50,408.76 111.75,408.73 112.00,408.70 112.25,408.66 112.50,408.61 112.75,408.55 113.00,408.48 113.25,408.39 113.50,408.26 113.75,408.10 114.00,407.88 114.25,407.56 114.50,407.09 114.75,406.35 115.00,405.11 115.25,402.90 115.50,398.70 115.75,391.42 116.00,386.00 116.25,391.42 116.50,398.70 116.75,402.90 117.00,405.11 117.25,406.35 117.50,407.09 117.75,407.56 118.00,407.88 118.25,408.10 118.50,408.26 118.75,408.38 119.00,408.48 119.25,408.55 119.50,408.61 119.75,408.66 120.00,408.70 120.25,408.73 120.50,408.76 120.75,408.78 121.00,408.80 121.25,408.81 121.50,408.83 121.75,408.84 122.00,408.85 122.25,408.86 122.50,408.87 122.75,408.88 123.00,408.89 123.25,408.89 123.50,408.90 123.75,408.90 124.00,408.91 124.25,408.91 124.50,408.91 124.75,408.92 125.00,408.92 125.25,408.92 125.50,408.92 125.75,408.93 126.00,408.93 126.25,408.93 126.50,408.93 126.75,408.93 127.00,408.93 127.25,408.93 127.50,408.93 127.75,408.93 128.00,408.93 128.25,408.93 128.50,408.92 128.75,408.92 129.00,408.92 129.25,408.91 129.50,408.90 129.75,408.89 130.00,408.88 130.25,408.86 130.50,408.84 130.75,408.80 131.00,408.74 131.25,408.65 131.50,408.49 131.75,408.20 132.00,407.64 132.25,406.84 132.40,406.60 132.50,406.71 132.75,407.49 133.00,408.11 133.25,408.45 133.50,408.63 133.75,408.73 134.00,408.79 134.25,408.83 134.50,408.86 134.75,408.88 135.00,408.90 135.25,408.91 135.50,408.92 135.75,408.92 136.00,408.93 136.25,408.93 136.50,408.94 136.75,408.94 137.00,408.94 137.25,408.95 137.50,408.95 137.75,408.95 138.00,408.95 138.25,408.95 138.50,408.95 138.75,408.95 139.00,408.95 139.25,408.95 139.50,408.95 139.75,408.95 140.00,408.95 140.25,408.95 140.50,408.95 140.75,408.95 141.00,408.95 141.25,408.95 141.50,408.95 141.75,408.95 142.00,408.95 142.25,408.95 142.50,408.95 142.75,408.95 143.00,408.95 143.25,408.94 143.50,408.94 143.75,408.94 144.00,408.94 144.25,408.94 144.50,408.93 144.75,408.93 145.00,408.93 145.25,408.92 145.50,408.92 145.75,408.92 146.00,408.91 146.25,408.91 146.50,408.90 146.75,408.89 147.00,408.88 147.25,408.87 147.50,408.86 147.75,408.84 148.00,408.82 148.25,408.80 148.50,408.77 148.75,408.74 149.00,408.69 149.25,408.63 149.50,408.55 149.75,408.44 150.00,408.27 150.25,408.01 150.50,407.60 150.75,406.87 151.00,405.52 151.25,403.01 151.50,399.85 151.60,399.40 151.75,400.36 152.00,403.62 152.25,405.87 152.50,407.05 152.75,407.69 153.00,408.07 153.25,408.30 153.50,408.45 153.75,408.56 154.00,408.64 154.25,408.69 154.50,408.73 154.75,408.77 155.00,408.79 155.25,408.81 155.50,408.83 155.75,408.84 156.00,408.85 156.25,408.86 156.50,408.87 156.75,408.88 157.00,408.88 157.25,408.88 157.50,408.89 157.75,408.89 158.00,408.89 158.25,408.89 158.50,408.89 158.75,408.89 159.00,408.89 159.25,408.89 159.50,408.89 159.75,408.88 160.00,408.88 160.25,408.87 160.50,408.87 160.75,408.86 161.00,408.85 161.25,408.85 161.50,408.83 161.75,408.82 162.00,408.80 162.25,408.78 162.50,408.75 162.75,408.71 163.00,408.66 163.25,408.59 163.50,408.48 163.75,408.32 164.00,408.06 164.25,407.58 164.50,406.69 164.75,405.15 165.00,404.00 165.25,405.13 165.50,406.64 165.75,407.51 166.00,407.95 166.25,408.19 166.50,408.32 166.75,408.38 167.00,408.41 167.25,408.40 167.50,408.37 167.75,408.31 168.00,408.22 168.25,408.08 168.50,407.89 168.75,407.60 169.00,407.15 169.25,406.43 169.50,405.19 169.75,402.90 170.00,398.56 170.25,392.25 170.40,390.40 170.50,391.27 170.75,397.35 171.00,402.20 171.25,404.79 171.50,406.16 171.75,406.93 172.00,407.38 172.25,407.64 172.50,407.76 172.75,407.77 173.00,407.64 173.25,407.28 173.50,406.49 173.75,405.06 174.00,404.00 174.25,405.14 174.50,406.65 174.75,407.53 175.00,408.00 175.25,408.27 175.50,408.44 175.75,408.55 176.00,408.63 176.25,408.68 176.50,408.72 176.75,408.76 177.00,408.78 177.25,408.80 177.50,408.82 177.75,408.84 178.00,408.85 178.25,408.86 178.50,408.87 178.75,408.88 179.00,408.88 179.25,408.89 179.50,408.90 179.75,408.90 180.00,408.91 180.25,408.91 180.50,408.91 180.75,408.92 181.00,408.92 181.25,408.92 181.50,408.92 181.75,408.93 182.00,408.93 182.25,408.93 182.50,408.93 182.75,408.93 183.00,408.94 183.25,408.94 183.50,408.94 183.75,408.94 184.00,408.94 184.25,408.94 184.50,408.94 184.75,408.94 185.00,408.95 185.25,408.95 185.50,408.95 185.75,408.95 186.00,408.95 186.25,408.95 186.50,408.95 186.75,408.95 187.00,408.95 187.25,408.95 187.50,408.95 187.75,408.95 188.00,408.95 188.25,408.95 188.50,408.95 188.75,408.95 189.00,408.95 189.25,408.95 189.50,408.95 189.75,408.95 190.00,408.95 190.25,408.95 190.50,408.95 190.75,408.95 191.00,408.95 191.25,408.95 191.50,408.95 191.75,408.95 192.00,408.95 192.25,408.95 192.50,408.95 192.75,408.95 193.00,408.95 193.25,408.95 193.50,408.95 193.75,408.95 194.00,408.95 194.25,408.95 194.50,408.95 194.75,408.95 195.00,408.95 195.25,408.95 195.50,408.95 195.75,408.95 196.00,408.95 196.25,408.95 196.50,408.95 196.75,408.94 197.00,408.94 197.25,408.94 197.50,408.94 197.75,408.94 198.00,408.94 198.25,408.94 198.50,408.94 198.75,408.94 199.00,408.94 199.25,408.94 199.50,408.94 199.75,408.93 200.00,408.93 200.25,408.93 200.50,408.93 200.75,408.93 201.00,408.93 201.25,408.93 201.50,408.92 201.75,408.92 202.00,408.92 202.25,408.92 202.50,408.92 202.75,408.91 203.00,408.91 203.25,408.91 203.50,408.91 203.75,408.90 204.00,408.90 204.25,408.90 204.50,408.89 204.75,408.89 205.00,408.89 205.25,408.88 205.50,408.88 205.75,408.87 206.00,408.87 206.25,408.86 206.50,408.85 206.75,408.85 207.00,408.84 207.25,408.83 207.50,408.82 207.75,408.81 208.00,408.80 208.25,408.79 208.50,408.77 208.75,408.76 209.00,408.74 209.25,408.72 209.50,408.69 209.75,408.66 210.00,408.63 210.25,408.59 210.50,408.55 210.75,408.49 211.00,408.42 211.25,408.34 211.50,408.24 211.75,408.10 212.00,407.93 212.25,407.70 212.50,407.37 212.75,406.90 213.00,406.19 213.25,405.06 213.50,403.11 213.75,399.53 214.00,392.75 214.25,382.89 214.40,380.00 214.50,381.35 214.75,390.86 215.00,398.44 215.25,402.50 215.50,404.66 215.75,405.89 216.00,406.63 216.25,407.10 216.50,407.40 216.75,407.59 217.00,407.68 217.25,407.69 217.50,407.59 217.75,407.33 218.00,406.76 218.25,405.63 218.50,404.20 218.60,404.00 218.75,404.44 219.00,405.94 219.25,406.95 219.50,407.45 219.75,407.68 220.00,407.76 220.25,407.71 220.50,407.56 220.75,407.24 221.00,406.65 221.25,405.56 221.50,403.44 221.75,399.75 222.00,397.00 222.25,399.78 222.50,403.50 222.75,405.65 223.00,406.79 223.25,407.42 223.50,407.80 223.75,408.04 224.00,408.21 224.25,408.32 224.50,408.41 224.75,408.47 225.00,408.51 225.25,408.55 225.50,408.57 225.75,408.59 226.00,408.61 226.25,408.62 226.50,408.62 226.75,408.63 227.00,408.63 227.25,408.63 227.50,408.62 227.75,408.61 228.00,408.60 228.25,408.59 228.50,408.57 228.75,408.55 229.00,408.52 229.25,408.49 229.50,408.45 229.75,408.40 230.00,408.34 230.25,408.26 230.50,408.16 230.75,408.02 231.00,407.83 231.25,407.55 231.50,407.11 231.75,406.37 232.00,405.03 232.25,402.56 232.50,399.47 232.60,399.00 232.75,399.85 233.00,402.84 233.25,404.84 233.50,405.78 233.75,406.16 234.00,406.21 234.25,406.04 234.50,405.64 234.75,404.98 235.00,403.94 235.25,402.29 235.50,399.56 235.75,394.77 236.00,385.80 236.25,369.03 236.50,348.00 236.60,345.00 236.75,351.39 237.00,373.19 237.25,388.17 237.50,396.09 237.75,400.38 238.00,402.89 238.25,404.45 238.50,405.48 238.75,406.20 239.00,406.71 239.25,407.09 239.50,407.38 239.75,407.61 240.00,407.79 240.25,407.93 240.50,408.05 240.75,408.15 241.00,408.23 241.25,408.30 241.50,408.35 241.75,408.40 242.00,408.45 242.25,408.48 242.50,408.51 242.75,408.54 243.00,408.56 243.25,408.58 243.50,408.60 243.75,408.61 244.00,408.62 244.25,408.63 244.50,408.63 244.75,408.62 245.00,408.61 245.25,408.59 245.50,408.56 245.75,408.49 246.00,408.38 246.25,408.18 246.50,407.79 246.75,407.11 247.00,406.60 247.25,407.11 247.50,407.80 247.75,408.20 248.00,408.41 248.25,408.53 248.50,408.60 248.75,408.65 249.00,408.67 249.25,408.70 249.50,408.71 249.75,408.72 250.00,408.72 250.25,408.73 250.50,408.73 250.75,408.73 251.00,408.73 251.25,408.72 251.50,408.72 251.75,408.71 252.00,408.70 252.25,408.69 252.50,408.68 252.75,408.66 253.00,408.64 253.25,408.62 253.50,408.59 253.75,408.56 254.00,408.51 254.25,408.46 254.50,408.39 254.75,408.31 255.00,408.20 255.25,408.04 255.50,407.83 255.75,407.53 256.00,407.07 256.25,406.33 256.50,405.06 256.75,402.73 257.00,398.31 257.25,391.88 257.40,390.00 257.50,390.88 257.75,397.09 258.00,402.03 258.25,404.68 258.50,406.10 258.75,406.91 259.00,407.41 259.25,407.73 259.50,407.95 259.75,408.11 260.00,408.22 260.25,408.30 260.50,408.37 260.75,408.41 261.00,408.45 261.25,408.48 261.50,408.50 261.75,408.51 262.00,408.52 262.25,408.53 262.50,408.53 262.75,408.53 263.00,408.53 263.25,408.53 263.50,408.52 263.75,408.51 264.00,408.49 264.25,408.48 264.50,408.46 264.75,408.44 265.00,408.42 265.25,408.39 265.50,408.36 265.75,408.33 266.00,408.29 266.25,408.24 266.50,408.19 266.75,408.14 267.00,408.07 267.25,408.00 267.50,407.92 267.75,407.82 268.00,407.71 268.25,407.57 268.50,407.42 268.75,407.23 269.00,407.01 269.25,406.74 269.50,406.41 269.75,405.99 270.00,405.47 270.25,404.78 270.50,403.86 270.75,402.60 271.00,400.80 271.25,398.10 271.50,393.81 271.75,386.43 272.00,372.55 272.25,344.98 272.50,303.37 272.60,293.20 272.75,293.90 273.00,298.25 273.25,293.20 273.50,328.66 273.75,363.69 274.00,381.96 274.25,391.36 274.50,396.63 274.75,399.85 275.00,401.95 275.25,403.40 275.50,404.44 275.75,405.21 276.00,405.79 276.25,406.25 276.50,406.61 276.75,406.90 277.00,407.14 277.25,407.34 277.50,407.50 277.75,407.64 278.00,407.76 278.25,407.86 278.50,407.95 278.75,408.03 279.00,408.10 279.25,408.15 279.50,408.20 279.75,408.25 280.00,408.29 280.25,408.32 280.50,408.35 280.75,408.38 281.00,408.40 281.25,408.42 281.50,408.44 281.75,408.46 282.00,408.47 282.25,408.48 282.50,408.48 282.75,408.49 283.00,408.49 283.25,408.49 283.50,408.48 283.75,408.47 284.00,408.46 284.25,408.44 284.50,408.42 284.75,408.39 285.00,408.36 285.25,408.31 285.50,408.24 285.75,408.16 286.00,408.06 286.25,407.92 286.50,407.72 286.75,407.45 287.00,407.05 287.25,406.43 287.50,405.43 287.75,403.68 288.00,400.41 288.25,394.32 288.50,386.69 288.60,385.60 288.75,387.91 289.00,395.81 289.25,401.23 289.50,404.10 289.75,405.65 290.00,406.55 290.25,407.10 290.50,407.46 290.75,407.71 291.00,407.88 291.25,407.99 291.50,408.07 291.75,408.12 292.00,408.15 292.25,408.15 292.50,408.13 292.75,408.08 293.00,407.99 293.25,407.86 293.50,407.63 293.75,407.27 294.00,406.66 294.25,405.55 294.50,403.43 294.75,399.74 295.00,397.00 295.25,399.74 295.50,403.42 295.75,405.55 296.00,406.66 296.25,407.27 296.50,407.63 296.75,407.85 297.00,407.98 297.25,408.05 297.50,408.09 297.75,408.09 298.00,408.04 298.25,407.95 298.50,407.79 298.75,407.53 299.00,407.06 299.25,406.20 299.50,404.57 299.75,401.72 300.00,399.60 300.25,401.72 300.50,404.57 300.75,406.21 301.00,407.08 301.25,407.55 301.50,407.83 301.75,408.01 302.00,408.12 302.25,408.19 302.50,408.24 302.75,408.27 303.00,408.28 303.25,408.28 303.50,408.28 303.75,408.26 304.00,408.24 304.25,408.21 304.50,408.18 304.75,408.13 305.00,408.07 305.25,408.01 305.50,407.92 305.75,407.83 306.00,407.71 306.25,407.57 306.50,407.40 306.75,407.19 307.00,406.93 307.25,406.60 307.50,406.17 307.75,405.61 308.00,404.84 308.25,403.75 308.50,402.16 308.75,399.71 309.00,395.66 309.25,388.48 309.50,374.98 309.75,351.69 310.00,334.00 310.25,349.90 310.50,370.90 310.75,380.80 311.00,381.55 311.25,374.68 311.50,369.00 311.75,378.47 312.00,390.19 312.25,397.07 312.50,400.84 312.75,403.03 313.00,404.40 313.25,405.31 313.50,405.95 313.75,406.41 314.00,406.74 314.25,407.00 314.50,407.19 314.75,407.32 315.00,407.42 315.25,407.47 315.50,407.47 315.75,407.43 316.00,407.31 316.25,407.07 316.50,406.62 316.75,405.77 317.00,404.14 317.25,401.76 317.40,401.00 317.50,401.23 317.75,403.13 318.00,404.37 318.25,404.37 318.50,403.05 318.75,400.18 319.00,398.00 319.25,400.48 319.50,403.73 319.75,405.62 320.00,406.62 320.25,407.17 320.50,407.50 320.75,407.69 321.00,407.81 321.25,407.86 321.50,407.87 321.75,407.84 322.00,407.75 322.25,407.59 322.50,407.33 322.75,406.89 323.00,406.15 323.25,404.80 323.50,402.22 323.75,397.74 324.00,394.40 324.25,397.69 324.50,402.10 324.75,404.60 325.00,405.84 325.25,406.42 325.50,406.58 325.75,406.36 326.00,405.62 326.25,404.01 326.50,401.91 326.60,401.60 326.75,402.20 327.00,404.24 327.25,405.41 327.50,405.50 327.75,404.68 328.00,404.00 328.25,405.14 328.50,406.55 328.75,407.39 329.00,407.85 329.25,408.12 329.50,408.29 329.75,408.40 330.00,408.49 330.25,408.55 330.50,408.60 330.75,408.64 331.00,408.67 331.25,408.69 331.50,408.71 331.75,408.73 332.00,408.75 332.25,408.76 332.50,408.77 332.75,408.78 333.00,408.79 333.25,408.80 333.50,408.80 333.75,408.81 334.00,408.81 334.25,408.82 334.50,408.82 334.75,408.82 335.00,408.83 335.25,408.83 335.50,408.83 335.75,408.83 336.00,408.83 336.25,408.83 336.50,408.83 336.75,408.83 337.00,408.83 337.25,408.82 337.50,408.82 337.75,408.82 338.00,408.81 338.25,408.80 338.50,408.80 338.75,408.79 339.00,408.78 339.25,408.76 339.50,408.74 339.75,408.72 340.00,408.70 340.25,408.66 340.50,408.62 340.75,408.57 341.00,408.50 341.25,408.40 341.50,408.27 341.75,408.08 342.00,407.79 342.25,407.32 342.50,406.52 342.75,405.04 343.00,402.25 343.25,398.19 343.40,397.00 343.50,397.56 343.75,401.48 344.00,404.60 344.25,406.27 344.50,407.16 344.75,407.67 345.00,407.98 345.25,408.18 345.50,408.30 345.75,408.39 346.00,408.44 346.25,408.47 346.50,408.48 346.75,408.47 347.00,408.43 347.25,408.36 347.50,408.23 347.75,408.03 348.00,407.67 348.25,407.02 348.50,405.78 348.75,403.61 349.00,402.00 349.25,403.63 349.50,405.81 349.75,407.07 350.00,407.73 350.25,408.11 350.50,408.33 350.75,408.47 351.00,408.57 351.25,408.64 351.50,408.69 351.75,408.73 352.00,408.76 352.25,408.79 352.50,408.80 352.75,408.82 353.00,408.83 353.25,408.84 353.50,408.85 353.75,408.86 354.00,408.87 354.25,408.87 354.50,408.88 354.75,408.88 355.00,408.89 355.25,408.89 355.50,408.89 355.75,408.90 356.00,408.90 356.25,408.90 356.50,408.90 356.75,408.90 357.00,408.91 357.25,408.91 357.50,408.91 357.75,408.91 358.00,408.91 358.25,408.91 358.50,408.91 358.75,408.91 359.00,408.91 359.25,408.91 359.50,408.91 359.75,408.91 360.00,408.91 360.25,408.91 360.50,408.91 360.75,408.91 361.00,408.91 361.25,408.91 361.50,408.90 361.75,408.90 362.00,408.90 362.25,408.90 362.50,408.90 362.75,408.89 363.00,408.89 363.25,408.89 363.50,408.89 363.75,408.88 364.00,408.88 364.25,408.87 364.50,408.87 364.75,408.86 365.00,408.86 365.25,408.85 365.50,408.84 365.75,408.83 366.00,408.82 366.25,408.81 366.50,408.79 366.75,408.78 367.00,408.76 367.25,408.73 367.50,408.70 367.75,408.67 368.00,408.63 368.25,408.57 368.50,408.50 368.75,408.41 369.00,408.29 369.25,408.12 369.50,407.86 369.75,407.47 370.00,406.83 370.25,405.68 370.50,403.52 370.75,399.80 371.00,397.00 371.25,399.65 371.50,403.20 371.75,405.12 372.00,405.91 372.25,405.96 372.50,405.26 372.75,403.64 373.00,402.40 373.25,403.81 373.50,405.62 373.75,406.59 374.00,406.95 374.25,406.86 374.50,406.25 374.75,404.96 375.00,404.00 375.25,405.13 375.50,406.61 375.75,407.47 376.00,407.93 376.25,408.20 376.50,408.36 376.75,408.47 377.00,408.54 377.25,408.60 377.50,408.64 377.75,408.67 378.00,408.69 378.25,408.70 378.50,408.72 378.75,408.72 379.00,408.73 379.25,408.73 379.50,408.73 379.75,408.73 380.00,408.72 380.25,408.72 380.50,408.71 380.75,408.69 381.00,408.68 381.25,408.66 381.50,408.63 381.75,408.60 382.00,408.56 382.25,408.51 382.50,408.45 382.75,408.37 383.00,408.27 383.25,408.13 383.50,407.94 383.75,407.67 384.00,407.26 384.25,406.60 384.50,405.49 384.75,403.46 385.00,399.63 385.25,394.07 385.40,392.40 385.50,393.10 385.75,398.21 386.00,402.12 386.25,403.84 386.50,404.01 386.75,402.91 387.00,402.00 387.25,403.60 387.50,405.56 387.75,406.71 388.00,407.34 388.25,407.69 388.50,407.90 388.75,408.03 389.00,408.09 389.25,408.12 389.50,408.11 389.75,408.06 390.00,407.96 390.25,407.80 390.50,407.54 390.75,407.11 391.00,406.38 391.25,405.07 391.50,402.57 391.75,398.24 392.00,395.00 392.25,398.15 392.50,402.38 392.75,404.72 393.00,405.79 393.25,406.08 393.50,405.68 393.75,404.50 394.00,403.60 394.25,404.83 394.50,406.39 394.75,407.31 395.00,407.82 395.25,408.11 395.50,408.30 395.75,408.42 396.00,408.51 396.25,408.57 396.50,408.62 396.75,408.66 397.00,408.69 397.25,408.72 397.50,408.74 397.75,408.76 398.00,408.77 398.25,408.79 398.50,408.80 398.75,408.81 399.00,408.81 399.25,408.82 399.50,408.82 399.75,408.83 400.00,408.83 400.25,408.84 400.50,408.84 400.75,408.84 401.00,408.84 401.25,408.84 401.50,408.84 401.75,408.84 402.00,408.84 402.25,408.83 402.50,408.83 402.75,408.82 403.00,408.82 403.25,408.81 403.50,408.80 403.75,408.79 404.00,408.77 404.25,408.75 404.50,408.72 404.75,408.69 405.00,408.64 405.25,408.57 405.50,408.47 405.75,408.31 406.00,408.05 406.25,407.58 406.50,406.69 406.75,405.15 407.00,404.00 407.25,405.14 407.50,406.66 407.75,407.54 408.00,407.99 408.25,408.24 408.50,408.39 408.75,408.47 409.00,408.52 409.25,408.55 409.50,408.56 409.75,408.55 410.00,408.54 410.25,408.51 410.50,408.47 410.75,408.40 411.00,408.31 411.25,408.18 411.50,408.00 411.75,407.70 412.00,407.22 412.25,406.38 412.50,404.79 412.75,402.07 413.00,400.00 413.25,401.84 413.50,404.29 413.75,405.50 414.00,405.80 414.25,405.34 414.50,403.89 414.75,401.11 415.00,399.00 415.25,401.16 415.50,403.99 415.75,405.51 416.00,406.08 416.25,405.99 416.50,405.15 416.75,403.35 417.00,402.00 417.25,403.58 417.50,405.65 417.75,406.85 418.00,407.49 418.25,407.86 418.50,408.08 418.75,408.22 419.00,408.31 419.25,408.37 419.50,408.41 419.75,408.43 420.00,408.44 420.25,408.43 420.50,408.41 420.75,408.38 421.00,408.33 421.25,408.26 421.50,408.16 421.75,408.01 422.00,407.80 422.25,407.48 422.50,406.96 422.75,406.07 423.00,404.43 423.25,401.41 423.50,397.60 423.60,397.00 423.75,397.96 424.00,401.39 424.25,403.34 424.50,403.50 424.75,402.16 425.00,401.00 425.25,402.69 425.50,404.77 425.75,405.84 426.00,406.19 426.25,405.95 426.50,404.99 426.75,403.08 427.00,401.60 427.25,403.05 427.50,404.91 427.75,405.73 428.00,405.65 428.25,404.66 428.50,403.18 428.60,403.00 428.75,403.59 429.00,405.44 429.25,406.70 429.50,407.37 429.75,407.73 430.00,407.92 430.25,408.01 430.50,408.04 430.75,408.00 431.00,407.88 431.25,407.67 431.50,407.28 431.75,406.57 432.00,405.21 432.25,402.66 432.50,399.45 432.60,399.00 432.75,399.99 433.00,403.33 433.25,405.64 433.50,406.86 433.75,407.52 434.00,407.91 434.25,408.16 434.50,408.32 434.75,408.43 435.00,408.51 435.25,408.57 435.50,408.62 435.75,408.66 436.00,408.68 436.25,408.71 436.50,408.72 436.75,408.74 437.00,408.75 437.25,408.76 437.50,408.76 437.75,408.77 438.00,408.77 438.25,408.76 438.50,408.76 438.75,408.75 439.00,408.74 439.25,408.71 439.50,408.68 439.75,408.62 440.00,408.52 440.25,408.35 440.50,408.01 440.75,407.43 441.00,407.00 441.25,407.43 441.50,408.00 441.75,408.33 442.00,408.51 442.25,408.60 442.50,408.65 442.75,408.68 443.00,408.70 443.25,408.71 443.50,408.71 443.75,408.71 444.00,408.70 444.25,408.69 444.50,408.68 444.75,408.66 445.00,408.64 445.25,408.61 445.50,408.57 445.75,408.52 446.00,408.46 446.25,408.37 446.50,408.25 446.75,408.06 447.00,407.77 447.25,407.27 447.50,406.36 447.75,404.80 448.00,403.60 448.25,404.61 448.50,405.97 448.75,406.66 449.00,406.88 449.25,406.79 449.50,406.45 449.75,405.79 450.00,404.60 450.25,402.42 450.50,398.27 450.75,391.08 451.00,385.60 451.25,390.49 451.50,396.90 451.75,399.77 452.00,399.63 452.25,397.50 452.40,397.00 452.50,397.71 452.75,401.39 453.00,404.26 453.25,405.86 453.50,406.75 453.75,407.29 454.00,407.64 454.25,407.88 454.50,408.05 454.75,408.17 455.00,408.27 455.25,408.34 455.50,408.40 455.75,408.44 456.00,408.47 456.25,408.50 456.50,408.52 456.75,408.53 457.00,408.54 457.25,408.54 457.50,408.54 457.75,408.53 458.00,408.52 458.25,408.50 458.50,408.48 458.75,408.44 459.00,408.40 459.25,408.35 459.50,408.28 459.75,408.19 460.00,408.07 460.25,407.91 460.50,407.69 460.75,407.37 461.00,406.90 461.25,406.15 461.50,404.88 461.75,402.57 462.00,398.23 462.25,391.91 462.40,390.00 462.50,390.77 462.75,396.47 463.00,400.77 463.25,402.51 463.50,402.35 463.75,400.50 464.00,399.00 464.25,401.18 464.50,403.90 464.75,405.43 465.00,406.18 465.25,406.48 465.50,406.48 465.75,406.19 466.00,405.50 466.25,404.12 466.50,401.40 466.75,396.62 467.00,393.00 467.25,396.38 467.50,400.84 467.75,403.04 468.00,403.43 468.25,402.24 468.50,400.21 468.60,400.00 468.75,400.94 469.00,403.78 469.25,405.73 469.50,406.80 469.75,407.40 470.00,407.77 470.25,408.01 470.50,408.18 470.75,408.30 471.00,408.39 471.25,408.47 471.50,408.52 471.75,408.57 472.00,408.60 472.25,408.63 472.50,408.66 472.75,408.68 473.00,408.70 473.25,408.71 473.50,408.73 473.75,408.74 474.00,408.75 474.25,408.75 474.50,408.76 474.75,408.77 475.00,408.77 475.25,408.77 475.50,408.77 475.75,408.77 476.00,408.77 476.25,408.77 476.50,408.77 476.75,408.76 477.00,408.76 477.25,408.75 477.50,408.74 477.75,408.73 478.00,408.71 478.25,408.70 478.50,408.67 478.75,408.65 479.00,408.61 479.25,408.57 479.50,408.52 479.75,408.46 480.00,408.37 480.25,408.25 480.50,408.09 480.75,407.86 481.00,407.51 481.25,406.96 481.50,406.03 481.75,404.32 482.00,401.09 482.25,396.41 482.40,395.00 482.50,395.59 482.75,399.89 483.00,403.18 483.25,404.62 483.50,404.75 483.75,403.79 484.00,403.00 484.25,404.37 484.50,406.05 484.75,407.03 485.00,407.56 485.25,407.86 485.50,408.03 485.75,408.12 486.00,408.16 486.25,408.14 486.50,408.07 486.75,407.90 487.00,407.59 487.25,407.01 487.50,405.87 487.75,403.88 488.00,402.40 488.25,403.90 488.50,405.91 488.75,407.07 489.00,407.68 489.25,408.01 489.50,408.21 489.75,408.33 490.00,408.40 490.25,408.44 490.50,408.45 490.75,408.44 491.00,408.41 491.25,408.34 491.50,408.23 491.75,408.03 492.00,407.70 492.25,407.09 492.50,405.93 492.75,403.91 493.00,402.40 493.25,403.91 493.50,405.94 493.75,407.10 494.00,407.72 494.25,408.06 494.50,408.26 494.75,408.38 495.00,408.46 495.25,408.51 495.50,408.54 495.75,408.55 496.00,408.55 496.25,408.54 496.50,408.51 496.75,408.47 497.00,408.41 497.25,408.32 497.50,408.17 497.75,407.95 498.00,407.59 498.25,406.93 498.50,405.71 498.75,403.59 499.00,402.00 499.25,403.48 499.50,405.47 499.75,406.55 500.00,407.01 500.25,407.10 500.50,406.88 500.75,406.28 501.00,405.02 501.25,402.58 501.50,399.48 501.60,399.00 501.75,399.84 502.00,402.76 502.25,404.48 502.50,404.73 502.75,403.80 503.00,403.00 503.25,404.41 503.50,406.13 503.75,407.15 504.00,407.71 504.25,408.03 504.50,408.24 504.75,408.37 505.00,408.47 505.25,408.54 505.50,408.59 505.75,408.63 506.00,408.67 506.25,408.69 506.50,408.71 506.75,408.73 507.00,408.74 507.25,408.75 507.50,408.76 507.75,408.77 508.00,408.77 508.25,408.77 508.50,408.78 508.75,408.78 509.00,408.78 509.25,408.78 509.50,408.77 509.75,408.77 510.00,408.76 510.25,408.76 510.50,408.75 510.75,408.74 511.00,408.73 511.25,408.71 511.50,408.70 511.75,408.68 512.00,408.65 512.25,408.62 512.50,408.59 512.75,408.54 513.00,408.48 513.25,408.40 513.50,408.29 513.75,408.12 514.00,407.85 514.25,407.39 514.50,406.54 514.75,405.10 515.00,404.00 515.25,404.96 515.50,406.26 515.75,406.94 516.00,407.22 516.25,407.25 516.50,407.13 516.75,406.86 517.00,406.39 517.25,405.64 517.50,404.40 517.75,402.25 518.00,398.24 518.25,390.81 518.50,381.44 518.60,380.00 518.75,382.48 519.00,391.19 519.25,396.39 519.50,397.39 519.75,395.05 520.00,393.00 520.25,396.79 520.50,401.42 520.75,404.14 521.00,405.62 521.25,406.48 521.50,407.01 521.75,407.35 522.00,407.58 522.25,407.73 522.50,407.82 522.75,407.86 523.00,407.84 523.25,407.78 523.50,407.63 523.75,407.36 524.00,406.88 524.25,405.98 524.50,404.26 524.75,401.28 525.00,399.00 525.25,401.04 525.50,403.71 525.75,404.89 526.00,404.79 526.25,403.83 526.40,403.60 526.50,403.91 526.75,405.53 527.00,406.80 527.25,407.50 527.50,407.90 527.75,408.14 528.00,408.29 528.25,408.40 528.50,408.48 528.75,408.53 529.00,408.57 529.25,408.60 529.50,408.63 529.75,408.64 530.00,408.65 530.25,408.66 530.50,408.66 530.75,408.65 531.00,408.64 531.25,408.62 531.50,408.60 531.75,408.56 532.00,408.51 532.25,408.44 532.50,408.35 532.75,408.20 533.00,407.98 533.25,407.63 533.50,407.04 533.75,405.95 534.00,403.89 534.25,400.91 534.40,400.00 534.50,400.37 534.75,403.06 535.00,405.09 535.25,405.89 535.50,405.76 535.75,404.78 536.00,404.00 536.25,405.16 536.50,406.61 536.75,407.46 537.00,407.92 537.25,408.19 537.50,408.35 537.75,408.45 538.00,408.52 538.25,408.56 538.50,408.57 538.75,408.57 539.00,408.54 539.25,408.47 539.50,408.33 539.75,408.07 540.00,407.56 540.25,406.67 540.50,406.00 540.75,406.69 541.00,407.60"/>
</g>
<rect x="37.5" y="5.5" width="503.70000000000005" height="405.6" fill="none" stroke="#000" stroke-width="1.4" stroke-linejoin="round"/>
<g stroke="#000" stroke-width="1.4">
<line x1="37.50" y1="411.1" x2="37.50" y2="418.6"/>
<line x1="93.47" y1="411.1" x2="93.47" y2="414.40000000000003"/>
<line x1="149.43" y1="411.1" x2="149.43" y2="418.6"/>
<line x1="205.40" y1="411.1" x2="205.40" y2="414.40000000000003"/>
<line x1="261.37" y1="411.1" x2="261.37" y2="418.6"/>
<line x1="317.33" y1="411.1" x2="317.33" y2="414.40000000000003"/>
<line x1="373.30" y1="411.1" x2="373.30" y2="418.6"/>
<line x1="429.27" y1="411.1" x2="429.27" y2="414.40000000000003"/>
<line x1="485.23" y1="411.1" x2="485.23" y2="418.6"/>
<line x1="541.20" y1="411.1" x2="541.20" y2="414.40000000000003"/>
</g>
<g class="b" font-size="19" text-anchor="middle" fill="#000">
<text x="37.50" y="438.6">10</text>
<text x="149.43" y="438.6">20</text>
<text x="261.37" y="438.6">30</text>
<text x="373.30" y="438.6">40</text>
<text x="485.23" y="438.6">50</text>
</g>
<text class="b" x="289" y="463.8" font-size="18" text-anchor="middle" fill="#000">2theta, deg.</text>
<text class="b" transform="translate(22.8,280.3) rotate(-90)" font-size="21.5" fill="#000">Intensity, a. u.</text>
<text class="b" x="427.3" y="151.1" font-size="14.9" fill="#0a6ef0">0.01Gd <tspan dx="0.8" letter-spacing="-0.3">TCP</tspan></text>
<text class="b" x="435.9" y="251.2" font-size="14.9" fill="#000">0.1Gd TCP</text>
<text x="398" y="370.9" font-size="13.15" fill="#ff0000">PDF#4 00-009-0169</text>
</svg>
</body></html>
